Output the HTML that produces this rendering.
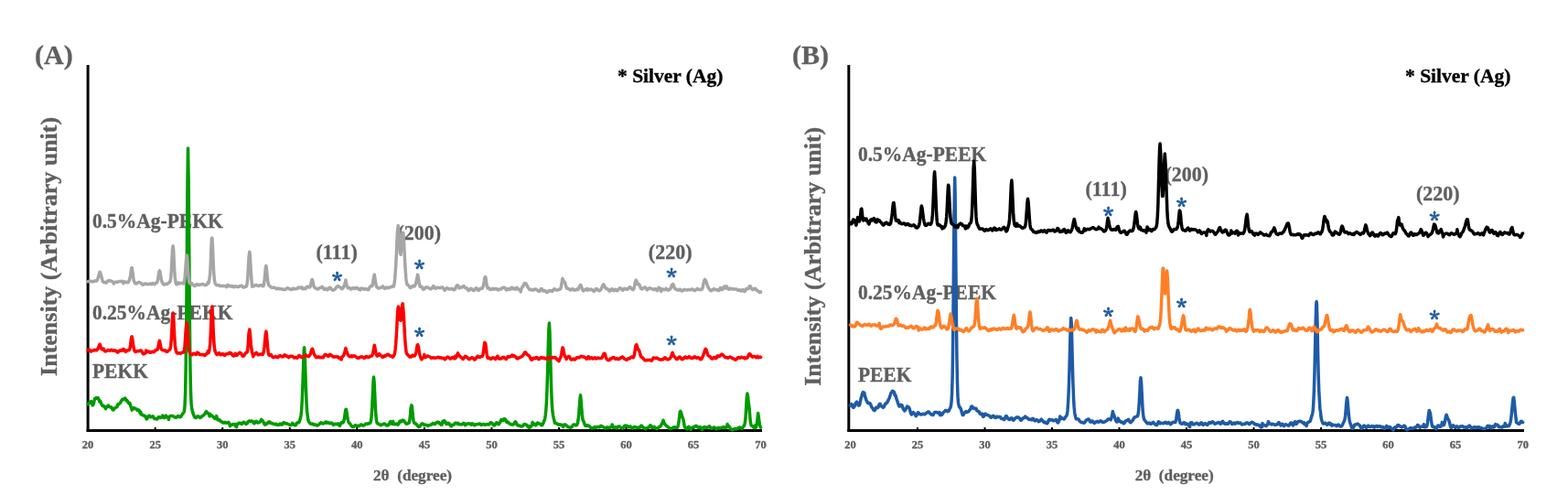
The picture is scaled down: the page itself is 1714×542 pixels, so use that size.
<!DOCTYPE html>
<html><head><meta charset="utf-8"><title>XRD patterns</title>
<style>
html,body{margin:0;padding:0;background:#fff;width:1714px;height:542px;overflow:hidden}
svg{display:block;filter:blur(0.7px)}
text{font-family:"Liberation Serif","Times New Roman",serif;font-weight:bold;white-space:pre;stroke-width:0.35px;stroke-linejoin:round}
.tk{stroke:#5f5f5f;font-size:12.5px;fill:#5f5f5f;text-anchor:middle}
.pl{stroke:#5f5f5f;font-size:30px;fill:#5f5f5f}
.sv{stroke:#000;font-size:21.5px;fill:#000}
.lb{stroke:#5f5f5f;font-size:21.5px;fill:#5f5f5f}
.yl{stroke:#5f5f5f;font-size:26px;fill:#5f5f5f;text-anchor:middle}
.xl{stroke:#5f5f5f;font-size:17.2px;fill:#5f5f5f;text-anchor:middle}
.st{font-family:'Noto Serif CJK SC',serif;font-size:23px;fill:#1c5b9c;stroke:#1c5b9c;stroke-width:0.7px;stroke-linejoin:round;text-anchor:middle}
.hk{stroke:#5f5f5f;font-size:22px;fill:#5f5f5f}
</style></head><body>
<svg width="1714" height="542" viewBox="0 0 1714 542">
<rect width="1714" height="542" fill="#fff"/>
<line x1="96.1" y1="71" x2="96.1" y2="471.5" stroke="#000" stroke-width="3"/>
<line x1="94.6" y1="470.5" x2="833" y2="470.5" stroke="#000" stroke-width="3"/>
<text x="96.1" y="490" class="tk">20</text>
<line x1="169.7" y1="467" x2="169.7" y2="470" stroke="#000" stroke-width="2"/>
<text x="169.7" y="490" class="tk">25</text>
<line x1="243.2" y1="467" x2="243.2" y2="470" stroke="#000" stroke-width="2"/>
<text x="243.2" y="490" class="tk">30</text>
<line x1="316.8" y1="467" x2="316.8" y2="470" stroke="#000" stroke-width="2"/>
<text x="316.8" y="490" class="tk">35</text>
<line x1="390.3" y1="467" x2="390.3" y2="470" stroke="#000" stroke-width="2"/>
<text x="390.3" y="490" class="tk">40</text>
<line x1="463.9" y1="467" x2="463.9" y2="470" stroke="#000" stroke-width="2"/>
<text x="463.9" y="490" class="tk">45</text>
<line x1="537.4" y1="467" x2="537.4" y2="470" stroke="#000" stroke-width="2"/>
<text x="537.4" y="490" class="tk">50</text>
<line x1="611.0" y1="467" x2="611.0" y2="470" stroke="#000" stroke-width="2"/>
<text x="611.0" y="490" class="tk">55</text>
<line x1="684.5" y1="467" x2="684.5" y2="470" stroke="#000" stroke-width="2"/>
<text x="684.5" y="490" class="tk">60</text>
<line x1="758.1" y1="467" x2="758.1" y2="470" stroke="#000" stroke-width="2"/>
<text x="758.1" y="490" class="tk">65</text>
<text x="831.6" y="490" class="tk">70</text>
<line x1="927.8" y1="71" x2="927.8" y2="471.5" stroke="#000" stroke-width="3"/>
<line x1="926.3" y1="470.5" x2="1666" y2="470.5" stroke="#000" stroke-width="3"/>
<text x="929.4" y="490" class="tk">20</text>
<line x1="1002.9" y1="467" x2="1002.9" y2="470" stroke="#000" stroke-width="2"/>
<text x="1002.9" y="490" class="tk">25</text>
<line x1="1076.5" y1="467" x2="1076.5" y2="470" stroke="#000" stroke-width="2"/>
<text x="1076.5" y="490" class="tk">30</text>
<line x1="1150.0" y1="467" x2="1150.0" y2="470" stroke="#000" stroke-width="2"/>
<text x="1150.0" y="490" class="tk">35</text>
<line x1="1223.5" y1="467" x2="1223.5" y2="470" stroke="#000" stroke-width="2"/>
<text x="1223.5" y="490" class="tk">40</text>
<line x1="1297.0" y1="467" x2="1297.0" y2="470" stroke="#000" stroke-width="2"/>
<text x="1297.0" y="490" class="tk">45</text>
<line x1="1370.5" y1="467" x2="1370.5" y2="470" stroke="#000" stroke-width="2"/>
<text x="1370.5" y="490" class="tk">50</text>
<line x1="1444.1" y1="467" x2="1444.1" y2="470" stroke="#000" stroke-width="2"/>
<text x="1444.1" y="490" class="tk">55</text>
<line x1="1517.6" y1="467" x2="1517.6" y2="470" stroke="#000" stroke-width="2"/>
<text x="1517.6" y="490" class="tk">60</text>
<line x1="1591.1" y1="467" x2="1591.1" y2="470" stroke="#000" stroke-width="2"/>
<text x="1591.1" y="490" class="tk">65</text>
<text x="1664.7" y="490" class="tk">70</text>
<text x="38" y="70" class="pl">(A)</text>
<text x="675" y="89.7" class="sv">* Silver (Ag)</text>
<text transform="translate(101,249.0) scale(1,1.045)" class="lb">0.5%Ag-PEKK</text>
<text transform="translate(101,349.4) scale(1,1.045)" class="lb">0.25%Ag-PEKK</text>
<text transform="translate(101,413.3) scale(1,1.045)" class="lb">PEKK</text>
<text transform="translate(345.5,283) scale(1,1.045)" class="hk">(111)</text>
<text transform="translate(434.5,262) scale(1,1.045)" class="hk">(200)</text>
<text transform="translate(708.8,283) scale(1,1.045)" class="hk">(220)</text>
<text transform="translate(62,269.4) rotate(-90)" class="yl">Intensity (Arbitrary unit)</text>
<text x="451" y="524.9" class="xl">2θ  (degree)</text>
<text x="866" y="70" class="pl">(B)</text>
<text x="1536" y="89.7" class="sv">* Silver (Ag)</text>
<text transform="translate(938,175.8) scale(1,1.045)" class="lb">0.5%Ag-PEEK</text>
<text transform="translate(938,327.2) scale(1,1.045)" class="lb">0.25%Ag-PEEK</text>
<text transform="translate(938,416.5) scale(1,1.045)" class="lb">PEEK</text>
<text transform="translate(1186.5,214) scale(1,1.045)" class="hk">(111)</text>
<text transform="translate(1273.5,198) scale(1,1.045)" class="hk">(200)</text>
<text transform="translate(1548,218.5) scale(1,1.045)" class="hk">(220)</text>
<text transform="translate(897,280.3) rotate(-90)" class="yl">Intensity (Arbitrary unit)</text>
<text x="1283.7" y="524.9" class="xl">2θ  (degree)</text>
<polyline fill="none" stroke="#009a00" stroke-width="3.5" stroke-linejoin="round" stroke-linecap="round" points="96.1,441.8 96.7,441.0 97.3,440.5 97.9,440.0 98.5,440.0 99.0,439.2 99.6,438.7 100.2,440.3 100.8,441.7 101.4,442.9 102.0,441.9 102.6,440.1 103.2,437.0 103.7,435.6 104.3,435.0 104.9,434.7 105.5,435.2 106.1,435.4 106.7,435.3 107.1,434.5 107.9,436.7 108.5,437.1 109.0,439.3 109.6,438.2 110.2,439.6 110.8,441.2 111.4,442.6 112.0,443.5 112.6,443.5 113.2,443.3 113.8,444.2 114.3,445.0 114.9,445.5 115.5,446.6 116.1,445.4 116.7,444.7 117.3,443.8 117.9,443.2 118.5,443.1 119.0,444.4 119.6,444.5 120.2,444.9 120.8,445.1 121.4,444.7 122.0,445.3 122.6,446.6 123.2,447.6 123.8,448.0 124.3,447.7 124.9,446.5 125.5,445.8 126.1,445.6 126.7,445.2 127.3,445.0 127.9,444.7 128.5,442.7 129.1,441.8 129.6,441.7 130.2,441.3 130.8,440.8 131.4,440.3 132.0,439.4 132.6,438.0 133.2,437.1 133.8,436.3 134.3,436.7 134.9,436.0 135.5,436.0 136.1,436.5 136.7,435.0 137.3,436.0 137.9,437.3 138.5,438.1 139.1,437.9 139.6,438.9 140.2,439.4 140.8,441.0 141.4,441.0 142.0,440.7 142.6,442.9 143.2,444.8 143.8,446.7 144.3,448.1 144.9,447.5 145.5,446.7 146.1,445.7 146.7,445.9 147.3,446.0 147.9,446.5 148.5,446.7 149.1,447.1 149.6,447.7 150.2,448.5 150.8,448.1 151.4,447.8 152.0,448.3 152.6,449.8 153.2,451.7 153.8,450.2 154.4,453.0 154.9,452.8 155.5,453.3 156.1,453.7 156.7,454.0 157.3,453.9 157.9,454.3 158.5,454.5 159.1,455.8 159.6,456.9 160.2,458.0 160.8,457.4 161.4,456.5 162.0,454.9 162.6,454.6 163.2,454.1 163.8,454.9 164.4,455.5 164.9,455.9 165.5,455.7 166.1,455.5 166.7,454.8 167.3,455.0 167.9,456.3 168.5,457.2 169.1,457.7 169.6,457.5 170.2,457.3 170.8,457.5 171.4,458.1 172.0,457.6 172.6,457.0 173.2,455.8 173.8,455.7 174.4,455.9 174.9,456.5 175.5,456.4 176.1,456.3 176.7,455.6 177.3,455.1 177.9,454.0 178.5,456.0 179.1,456.5 179.7,456.6 180.2,456.4 180.8,455.1 181.4,454.2 182.0,454.8 182.6,455.5 183.2,456.2 183.8,456.5 184.4,458.5 184.9,455.6 185.5,455.1 186.1,454.7 186.7,454.5 187.3,454.6 187.9,454.6 188.5,454.5 189.1,454.8 189.7,455.1 190.2,455.4 190.8,455.7 191.4,456.0 192.0,456.5 192.6,456.2 193.2,455.9 193.8,455.1 194.4,454.7 195.0,454.5 195.5,455.3 196.1,455.6 196.7,455.7 197.3,455.7 197.9,455.0 198.5,454.0 199.1,453.1 199.7,452.1 200.2,451.4 200.8,450.8 201.4,449.3 202.0,443.8 202.6,430.0 203.2,399.4 203.8,345.5 204.4,269.8 205.0,195.4 205.5,161.9 206.1,195.9 206.7,270.6 207.3,346.2 207.9,399.4 208.5,428.5 209.1,441.2 209.7,446.4 210.2,448.7 210.8,450.9 211.4,452.7 212.0,454.2 212.6,455.6 213.2,456.3 213.8,456.6 214.4,456.5 215.0,455.7 215.5,455.2 216.1,454.8 216.7,454.9 217.3,455.3 217.9,455.7 218.5,456.4 219.1,456.5 219.7,456.0 220.3,455.4 220.8,454.7 221.4,454.4 222.0,454.2 222.6,453.7 223.2,453.1 223.8,452.4 224.4,451.2 225.0,450.4 225.5,449.7 226.1,450.1 226.7,451.5 227.3,451.7 227.9,452.0 228.5,452.2 229.1,455.0 229.7,452.5 230.3,453.6 230.8,453.7 231.4,454.0 232.0,454.5 232.6,455.1 233.2,455.6 233.8,456.5 234.4,457.1 235.0,457.4 235.6,457.4 236.1,457.4 236.7,454.6 237.3,457.7 237.9,458.7 238.5,459.1 239.1,458.9 239.7,458.6 240.3,459.0 240.8,459.8 241.4,460.6 242.0,461.0 242.6,460.9 243.2,461.1 243.8,461.9 244.4,462.0 245.0,461.9 245.6,462.0 246.1,461.3 246.7,461.8 247.3,461.9 247.9,462.2 248.5,462.0 249.1,461.8 249.7,461.4 250.3,462.0 250.8,462.9 251.4,465.7 252.0,464.7 252.6,464.5 253.2,464.3 253.8,464.1 254.4,463.7 255.0,463.6 255.6,463.9 256.1,463.9 256.7,463.7 257.3,463.6 257.9,466.0 258.5,466.7 259.1,463.7 259.7,463.4 260.3,463.1 260.9,462.3 261.4,462.2 262.0,462.4 262.6,462.3 263.2,462.7 263.8,463.4 264.4,463.2 265.0,462.8 265.6,462.2 266.1,461.2 266.7,461.4 267.3,461.7 267.9,462.5 268.5,463.1 269.1,463.4 269.7,463.0 270.3,462.4 270.9,461.1 271.4,460.6 272.0,460.2 272.6,460.0 273.2,460.5 273.8,460.4 274.4,460.1 275.0,460.0 275.6,460.3 276.2,460.5 276.7,461.3 277.3,462.4 277.9,462.8 278.5,462.4 279.1,461.5 279.7,460.5 280.3,460.3 280.9,460.9 281.4,461.8 282.0,462.0 282.6,461.9 283.2,461.4 283.9,461.3 284.4,460.5 285.0,460.0 285.6,458.3 286.2,459.4 286.7,459.5 287.3,460.2 287.9,461.0 288.5,462.4 289.1,463.7 289.7,464.2 290.3,464.0 290.9,463.6 291.4,462.6 292.0,462.7 292.6,462.6 293.2,461.5 293.8,461.0 294.4,460.8 295.0,461.4 295.6,462.2 296.2,462.7 296.7,462.7 297.3,462.5 297.9,462.4 298.5,463.0 299.1,463.6 299.7,463.5 300.3,463.7 300.9,463.6 301.5,463.2 302.0,463.3 302.6,464.2 303.2,464.2 303.8,464.5 304.4,464.2 305.0,464.0 305.6,463.4 306.2,463.0 306.7,463.3 307.3,463.9 307.9,463.8 308.5,463.9 309.1,462.8 309.7,461.9 310.3,461.7 310.9,462.2 311.5,462.7 312.0,462.9 312.6,462.8 313.2,462.6 313.8,462.8 314.4,463.2 315.0,463.5 315.6,463.8 316.2,463.9 316.7,464.5 317.3,464.6 317.9,464.6 318.5,464.2 319.1,463.8 319.7,462.4 320.3,463.3 320.9,463.8 321.5,464.2 322.0,464.6 322.6,464.8 323.2,464.8 323.8,463.5 324.4,462.5 325.0,461.8 325.6,461.6 326.2,461.8 326.8,461.7 327.3,460.4 327.9,458.5 328.5,456.6 329.1,453.2 329.7,447.2 330.3,436.7 330.9,421.6 331.5,403.3 332.0,387.0 332.6,379.7 333.2,388.1 333.8,405.3 334.4,423.7 335.0,438.9 335.6,449.5 336.2,454.1 336.8,458.8 337.3,460.2 337.9,461.3 338.5,461.8 339.1,463.0 339.7,463.0 340.3,463.3 340.9,463.1 341.5,463.2 342.1,463.3 342.6,464.1 343.2,464.2 343.8,464.1 344.4,464.1 345.0,464.0 345.6,464.4 346.2,464.8 346.8,465.0 347.3,464.8 347.9,464.5 348.5,464.0 349.1,463.4 349.7,462.9 350.3,462.2 350.9,461.8 351.5,462.1 352.1,462.6 352.6,462.6 353.2,463.0 353.8,462.6 354.4,462.4 355.0,461.8 355.6,461.3 356.2,461.0 356.8,461.2 357.3,462.3 357.9,461.5 358.5,461.7 359.1,461.8 359.7,462.1 360.3,462.7 360.9,462.7 361.5,462.4 362.1,462.1 362.6,462.2 363.2,462.6 363.8,463.6 364.4,464.2 365.0,464.1 365.6,463.7 366.2,463.2 366.8,463.2 367.4,463.5 367.9,463.5 368.5,463.2 369.1,463.0 369.7,463.1 370.3,464.2 370.9,465.1 371.5,465.2 372.1,464.0 372.6,462.6 373.2,461.7 373.8,461.6 374.4,462.0 375.0,461.8 375.6,460.7 376.2,458.6 376.8,454.9 377.4,450.4 377.9,447.7 378.2,447.2 378.5,447.3 379.1,450.8 379.7,455.1 380.3,458.6 380.9,461.1 381.5,462.2 382.1,462.5 382.7,463.1 383.2,463.9 383.8,464.8 384.4,465.7 385.0,466.2 385.6,466.4 386.2,466.5 386.8,466.2 387.4,465.6 387.9,465.1 388.5,464.6 389.1,464.8 389.7,465.2 390.3,465.7 390.9,465.5 391.5,465.7 392.1,465.6 392.7,465.5 393.2,465.2 393.8,464.7 394.4,464.1 395.0,464.1 395.6,464.2 396.2,464.8 396.8,465.1 397.4,465.1 397.9,464.8 398.5,464.5 399.1,463.7 399.7,463.4 400.3,463.0 400.9,463.0 401.5,463.1 402.1,463.3 402.7,462.9 403.2,462.5 403.8,462.5 404.4,462.5 405.0,461.8 405.6,459.6 406.2,453.8 406.8,444.1 407.4,430.9 408.0,417.6 408.5,412.0 409.1,417.8 409.7,431.2 410.3,444.7 410.9,454.0 411.5,459.5 412.1,462.0 412.7,462.9 413.2,462.8 413.8,463.4 414.4,463.5 415.0,464.0 415.6,464.3 416.2,464.6 416.8,464.1 417.4,464.3 418.0,463.9 418.5,463.8 419.1,463.6 419.7,463.0 420.3,462.9 420.9,463.5 421.5,464.0 422.1,464.8 422.7,464.9 423.3,464.2 423.8,464.3 424.4,464.7 425.0,464.2 425.6,463.0 426.2,461.4 426.8,460.6 427.4,461.0 428.0,462.3 428.5,463.4 429.1,463.3 429.7,460.5 430.3,463.3 430.9,463.5 431.5,463.7 432.1,463.7 432.7,463.5 433.3,462.9 433.8,463.0 434.4,463.7 435.0,464.1 435.6,463.2 436.2,461.9 436.8,460.5 437.4,460.0 438.0,460.7 438.5,460.9 439.1,460.1 439.7,459.6 440.3,459.1 440.9,459.2 441.5,459.8 442.1,460.7 442.7,461.3 443.3,462.4 443.8,463.0 444.4,463.2 445.0,463.1 445.6,462.7 446.2,462.5 446.8,462.4 447.4,461.4 448.0,458.1 448.6,452.4 449.1,446.0 449.9,442.9 450.3,443.8 450.9,449.7 451.5,455.9 452.1,460.2 452.7,462.0 453.3,462.7 453.8,462.9 454.4,462.8 455.0,463.3 455.6,464.2 456.2,464.8 456.8,465.3 457.4,466.3 458.0,466.5 458.6,466.2 459.1,465.7 459.7,464.9 460.3,464.0 460.9,463.1 461.5,463.2 462.1,463.0 462.7,463.3 463.3,463.7 463.8,464.6 464.4,464.5 465.0,464.4 465.6,464.2 466.2,464.5 466.8,464.5 467.4,465.1 468.0,465.4 468.6,464.9 469.1,464.7 469.7,464.5 470.3,464.3 470.9,464.1 471.5,464.1 472.1,463.3 472.7,462.9 473.3,462.6 473.9,462.9 474.4,463.2 475.0,463.5 475.6,463.5 476.2,462.7 476.8,462.0 477.4,461.6 478.0,461.3 478.6,461.1 479.1,461.5 479.7,461.7 480.3,462.8 480.9,462.6 481.5,463.3 482.1,464.1 482.7,464.3 483.3,463.8 483.9,460.5 484.4,461.4 485.0,460.2 485.6,459.7 486.2,460.1 486.8,461.4 487.4,462.7 488.0,463.5 488.6,463.5 489.2,462.6 489.7,462.2 490.3,462.2 490.9,462.8 491.5,463.7 492.1,464.6 492.7,465.5 493.3,465.8 493.9,465.1 494.4,464.3 495.0,464.4 495.6,464.0 496.2,464.0 496.8,463.3 497.4,462.3 498.0,462.0 498.6,462.5 499.2,462.7 499.7,462.6 500.3,463.3 500.9,462.4 501.5,463.0 502.1,463.8 502.7,463.8 503.3,463.8 503.9,463.7 504.4,463.7 505.0,464.0 505.6,463.5 506.2,462.7 506.8,462.5 507.4,462.7 508.0,463.4 508.6,464.6 509.2,464.3 509.7,463.8 510.3,463.2 510.9,463.0 511.5,463.0 512.1,462.9 512.7,462.7 513.3,462.8 513.9,463.3 514.5,463.5 515.0,464.1 515.6,463.2 516.2,462.8 516.8,463.2 517.4,464.0 518.0,464.3 518.6,464.7 519.2,464.6 519.7,463.7 520.3,463.8 520.9,463.8 521.5,463.7 522.1,463.6 522.7,463.6 523.3,463.2 523.9,463.0 524.5,463.1 525.0,463.2 525.6,464.1 526.2,464.4 526.8,464.3 527.4,464.0 528.0,463.4 528.6,463.4 529.2,463.7 529.8,464.1 530.3,464.3 530.9,464.0 531.5,463.8 532.1,463.6 532.7,463.5 533.3,463.9 533.9,464.0 534.5,463.9 535.0,463.4 535.6,462.8 536.2,461.8 536.8,461.9 537.4,461.9 538.0,462.5 538.6,463.4 539.2,464.3 539.8,464.9 540.3,465.0 540.9,464.5 541.5,463.6 542.1,462.5 542.7,461.8 543.3,462.1 543.9,462.8 544.5,463.2 545.0,463.7 545.6,463.1 546.2,462.1 546.8,460.9 547.4,459.8 548.0,458.6 548.6,459.0 549.2,459.5 549.8,459.7 550.3,459.3 550.6,459.2 550.9,457.7 551.5,457.8 552.1,458.6 552.7,458.5 553.3,460.7 553.9,461.4 554.5,460.9 555.1,461.0 555.6,461.7 556.2,462.2 556.8,463.0 557.4,463.3 558.0,463.3 558.6,463.6 559.2,464.1 559.8,464.1 560.3,464.1 560.9,464.1 561.5,463.7 562.1,462.6 562.7,461.5 563.3,460.8 563.9,461.2 564.5,462.5 565.1,464.0 565.6,464.6 566.2,464.9 566.8,465.0 567.4,464.9 568.0,465.1 568.6,465.4 569.2,465.6 569.8,465.9 570.4,466.0 570.9,465.8 571.5,465.3 572.1,464.7 572.7,463.8 573.3,463.8 573.9,463.5 574.5,463.9 575.1,463.9 575.6,464.3 576.2,465.0 576.8,465.9 577.4,466.7 578.0,467.2 578.6,465.6 579.2,467.2 579.8,466.5 580.4,465.9 580.9,465.4 581.5,464.7 582.1,461.4 582.7,463.8 583.3,463.1 583.9,462.9 584.5,463.6 585.1,464.5 585.6,464.9 586.2,464.2 586.8,463.5 587.4,462.2 588.0,462.0 588.6,462.5 589.2,462.9 589.8,462.9 590.4,463.3 590.9,463.6 591.5,464.4 592.1,464.8 592.7,464.7 593.3,463.6 593.9,462.3 594.5,460.6 595.1,459.4 595.7,457.1 596.2,453.9 596.8,448.3 597.4,439.6 598.0,425.4 598.6,405.9 599.2,382.6 599.8,361.5 600.4,353.1 600.9,361.9 601.5,383.0 602.1,406.7 602.7,426.9 603.3,441.0 603.9,449.1 604.5,453.6 605.1,456.4 605.7,458.8 606.2,461.2 606.8,462.6 607.4,462.6 608.0,462.5 608.6,462.8 609.2,463.4 609.8,463.7 610.4,464.1 610.9,463.7 611.5,463.9 612.1,464.0 612.7,464.4 613.3,464.1 613.9,464.5 614.5,464.7 615.1,465.1 615.7,466.4 616.2,464.2 616.8,464.1 617.4,464.0 618.0,464.1 618.6,464.4 619.2,465.0 619.8,465.3 620.4,466.3 621.0,466.6 621.5,466.8 622.1,466.7 622.7,467.1 623.3,467.0 623.9,467.2 624.5,466.8 625.1,466.6 625.7,465.6 626.2,464.7 626.8,464.1 627.4,464.0 628.0,464.1 628.6,464.3 629.2,464.8 629.8,464.8 630.4,464.5 631.0,463.5 631.5,462.1 632.1,458.4 632.7,452.9 633.3,445.4 633.9,437.4 634.5,431.8 635.1,437.4 635.7,445.5 636.3,452.7 636.8,457.2 637.4,459.6 638.0,460.7 638.6,462.2 639.2,464.0 639.8,465.3 640.4,465.2 641.0,465.1 641.5,465.5 642.1,464.6 642.7,464.9 643.3,465.3 643.9,465.4 644.5,465.9 645.1,466.6 645.7,467.4 646.3,467.3 646.8,467.8 647.4,467.7 648.0,467.8 648.6,467.5 649.2,467.5 649.8,466.7 650.4,466.6 651.0,466.7 651.5,467.2 652.1,467.0 652.7,466.7 653.3,466.5 653.9,466.6 654.5,466.7 655.1,466.9 655.7,466.6 656.3,465.9 656.8,465.2 657.4,465.5 658.0,465.8 658.6,466.3 659.2,466.5 659.8,466.9 660.4,467.2 661.0,467.8 661.6,468.1 662.1,467.7 662.7,467.4 663.3,466.8 663.9,467.6 664.5,467.8 665.1,467.0 665.7,467.5 666.3,467.5 666.8,467.4 667.4,466.7 668.0,466.5 668.6,466.5 669.2,464.0 669.8,467.0 670.4,467.3 671.0,467.2 671.6,466.9 672.1,466.8 672.7,466.6 673.3,467.2 673.9,467.9 674.5,467.6 675.1,466.9 675.7,466.1 676.3,465.9 676.9,466.1 677.4,466.1 678.0,466.9 678.6,467.2 679.2,467.5 679.8,467.7 680.4,468.2 681.0,467.8 681.6,467.2 682.1,466.0 682.7,465.3 683.3,465.0 683.9,465.2 684.5,465.2 685.1,465.3 685.7,465.5 686.3,466.2 686.9,466.7 687.4,467.0 688.0,466.2 688.6,466.0 689.2,466.2 689.8,466.5 690.4,467.3 691.0,468.0 691.6,468.0 692.1,467.7 692.7,467.1 693.3,466.4 693.9,466.4 694.5,466.6 695.1,466.8 695.7,467.3 696.3,467.3 696.9,467.0 697.4,467.2 698.0,467.3 698.6,467.4 699.2,467.4 699.8,466.4 700.4,465.7 701.0,465.1 701.6,465.4 702.2,466.3 702.7,467.1 703.3,467.2 703.9,467.6 704.5,467.9 705.1,468.4 705.7,468.7 706.3,468.4 706.9,467.7 707.4,467.4 708.0,467.3 708.6,467.3 709.2,467.1 709.8,466.3 710.4,465.2 711.0,464.7 711.6,465.1 712.2,466.5 712.7,467.4 713.3,467.3 713.9,466.9 714.5,466.5 715.1,466.3 715.7,467.5 716.3,467.3 716.9,467.6 717.5,468.0 718.0,468.6 718.6,468.5 719.2,468.0 719.8,467.2 720.4,466.5 721.0,466.3 721.6,466.1 722.2,465.5 722.7,464.6 723.3,463.2 723.9,462.1 724.5,461.4 725.0,459.2 725.7,461.4 726.3,462.5 726.9,463.7 727.5,464.3 728.0,465.0 728.6,465.5 729.2,465.7 729.8,466.0 730.4,466.9 731.0,467.3 731.6,467.8 732.2,468.5 732.7,468.6 733.3,468.4 733.9,468.1 734.5,467.9 735.1,467.5 735.7,467.2 736.3,467.0 736.9,466.8 737.5,466.6 738.0,467.1 738.6,467.5 739.2,467.4 739.8,467.6 740.4,467.4 741.0,466.0 741.6,463.3 742.2,459.5 742.8,454.6 743.3,450.0 743.8,449.3 744.5,450.6 745.1,453.3 745.7,455.4 746.3,456.5 746.6,457.5 746.9,458.3 747.5,461.5 748.0,464.8 748.6,466.6 749.2,467.7 749.8,468.4 750.4,468.5 751.0,468.9 751.6,467.8 752.2,466.7 752.8,466.3 753.3,466.6 753.9,467.5 754.5,468.6 755.1,469.2 755.7,468.8 756.3,467.9 756.9,467.0 757.5,466.7 758.0,466.8 758.6,466.7 759.2,466.6 759.8,465.7 760.4,465.4 761.0,465.3 761.6,465.8 762.2,466.2 762.8,466.8 763.3,467.4 763.9,467.7 764.5,467.0 765.1,466.4 765.7,466.6 766.3,467.5 766.9,468.6 767.5,469.3 768.1,468.8 768.6,467.8 769.2,466.8 769.8,466.6 770.4,466.4 771.0,467.2 771.6,467.5 772.2,467.4 772.8,467.2 773.3,467.2 773.9,466.6 774.5,466.4 775.1,465.8 775.7,465.8 776.3,466.7 776.9,467.8 777.5,468.2 778.1,468.3 778.6,467.8 779.2,467.5 779.8,467.1 780.4,466.9 781.0,467.1 781.6,467.5 782.2,468.1 782.8,468.8 783.4,468.7 783.9,468.0 784.5,467.7 785.1,467.5 785.7,467.3 786.3,467.8 786.9,467.9 787.5,467.6 788.1,467.5 788.6,467.7 789.2,467.4 789.8,467.1 790.4,466.7 791.0,466.5 791.6,466.7 792.2,467.3 792.8,467.5 793.4,467.4 793.9,467.3 794.5,466.7 795.1,463.5 795.7,465.6 796.3,465.4 796.9,465.8 797.5,466.8 798.1,467.7 798.6,468.7 799.2,469.5 799.8,469.6 800.4,469.7 801.0,469.7 801.6,469.2 802.2,468.8 802.8,468.8 803.4,468.4 803.9,468.6 804.5,468.9 805.1,468.9 805.7,468.5 806.3,468.3 806.9,467.8 807.5,467.7 808.1,467.1 808.7,467.0 809.2,467.1 809.8,467.6 810.4,467.9 811.0,468.4 811.6,467.7 812.2,466.7 812.8,465.9 813.4,465.2 813.9,464.1 814.5,461.1 815.1,455.1 815.7,445.0 816.3,434.4 816.9,430.1 817.5,432.9 818.1,439.3 818.7,443.1 819.1,446.5 819.8,455.5 820.4,461.7 821.0,464.5 821.6,465.3 822.2,465.3 822.8,465.9 823.4,466.3 824.0,467.2 824.5,467.7 825.1,467.7 825.7,464.9 826.3,467.1 826.9,465.3 827.5,461.9 828.1,456.6 828.7,451.5 829.2,455.3 829.8,459.8 830.4,463.9 831.0,466.1 831.6,467.1"/>
<polyline fill="none" stroke="#ff0000" stroke-width="3.5" stroke-linejoin="round" stroke-linecap="round" points="96.1,382.7 96.7,381.9 97.3,381.9 97.9,382.4 98.5,383.1 99.0,383.7 99.6,384.1 100.2,383.4 100.8,383.3 101.4,383.2 102.0,383.0 102.6,382.6 103.2,382.5 103.7,382.3 104.3,382.7 104.9,382.8 105.5,382.8 106.1,382.1 106.7,381.6 107.3,380.4 107.9,379.1 108.5,377.5 109.0,376.2 109.6,377.2 110.2,379.5 110.8,381.2 111.4,381.8 112.0,381.5 112.6,381.1 113.2,381.1 113.8,382.4 114.3,383.5 114.9,384.0 115.5,383.9 116.1,383.6 116.7,383.4 117.3,383.0 117.9,382.7 118.5,382.5 119.0,382.9 119.6,383.1 120.2,383.2 120.8,382.7 121.4,382.4 122.0,382.2 122.6,383.1 123.2,383.1 123.8,383.2 124.3,383.2 124.9,383.1 125.5,382.8 126.1,383.3 126.7,383.2 127.3,383.6 127.9,384.7 128.5,385.0 129.1,384.8 129.6,384.2 130.2,383.5 130.8,382.9 131.4,383.0 132.0,382.6 132.6,383.3 133.2,383.1 133.8,382.7 134.3,381.7 134.9,381.5 135.5,381.7 136.1,383.0 136.7,384.0 137.3,384.4 137.9,383.9 138.5,383.1 139.1,383.0 139.6,382.6 140.2,382.8 140.8,382.8 141.4,382.5 142.0,380.8 142.6,376.9 143.2,371.9 143.8,368.3 144.1,367.8 144.3,368.1 144.9,371.4 145.5,375.8 146.1,379.9 146.7,382.3 147.3,383.9 147.9,384.4 148.5,384.4 149.1,384.0 149.6,383.9 150.2,383.6 150.8,383.8 151.4,383.7 152.0,383.7 152.6,383.4 153.2,383.0 153.8,382.9 154.4,383.2 154.9,384.0 155.5,385.0 156.1,386.3 156.7,386.8 157.3,386.7 157.9,386.6 158.5,386.0 159.1,385.6 159.6,383.0 160.2,385.0 160.8,384.1 161.4,384.1 162.0,383.9 162.6,384.1 163.2,384.4 163.8,385.2 164.4,385.3 164.9,385.2 165.5,384.9 166.1,384.2 166.7,384.2 167.3,384.6 167.9,384.8 168.5,384.5 169.1,384.0 169.6,383.1 170.2,382.5 170.8,382.4 171.4,382.4 172.0,382.2 172.6,380.6 173.2,377.7 173.8,374.2 174.4,372.3 174.9,374.4 175.5,378.0 176.1,380.6 176.7,382.0 177.3,382.3 177.9,382.5 178.5,382.8 179.1,382.8 179.7,382.9 180.2,382.6 180.8,383.2 181.4,383.6 182.0,384.4 182.6,384.1 183.2,384.1 183.8,383.3 184.4,383.0 184.9,382.6 185.5,382.4 186.1,381.0 186.7,377.7 187.3,370.6 187.9,359.5 188.5,347.5 189.1,342.0 189.7,346.4 190.2,357.5 190.8,369.2 191.4,377.4 192.0,381.8 192.6,384.0 193.2,385.5 193.8,386.0 194.4,386.1 195.0,386.0 195.5,385.9 196.1,385.7 196.7,385.9 197.3,386.4 197.9,386.0 198.5,385.6 199.1,385.1 199.7,384.9 200.2,385.1 200.8,385.0 201.4,382.7 202.0,378.2 202.6,370.1 203.2,360.9 203.8,354.4 204.1,352.8 204.4,355.0 205.0,361.6 205.5,370.5 206.1,378.1 206.7,382.8 207.3,384.9 207.9,386.1 208.5,386.8 209.1,387.3 209.7,387.4 210.2,387.6 210.8,386.8 211.4,386.4 212.0,386.2 212.6,386.6 213.2,386.5 213.8,387.3 214.4,387.4 215.0,387.2 215.5,385.2 216.1,385.6 216.7,385.5 217.3,386.2 217.9,387.2 218.5,387.6 219.1,387.6 219.7,387.5 220.3,387.7 220.8,387.4 221.4,387.5 222.0,387.7 222.6,387.6 223.2,388.1 223.8,388.5 224.4,388.2 225.0,387.3 225.5,386.9 226.1,386.2 226.7,386.2 227.3,383.7 227.9,385.6 228.5,384.1 229.1,381.0 229.7,375.1 230.3,364.7 230.8,350.5 231.4,339.3 231.7,335.0 232.0,337.7 232.6,347.6 233.2,361.9 233.8,373.5 234.4,379.9 235.0,383.5 235.6,384.9 236.1,386.0 236.7,387.1 237.3,387.5 237.9,387.1 238.5,386.3 239.1,385.8 239.7,385.8 240.3,386.6 240.8,387.5 241.4,387.8 242.0,387.5 242.6,386.9 243.2,386.5 243.8,386.8 244.4,387.7 245.0,388.2 245.6,388.3 246.1,388.0 246.7,386.9 247.3,386.8 247.9,386.7 248.5,386.8 249.1,386.5 249.7,386.6 250.3,386.6 250.8,385.3 251.4,385.7 252.0,385.7 252.6,385.9 253.2,386.5 253.8,387.5 254.4,388.4 255.0,388.9 255.6,389.0 256.1,388.6 256.7,388.3 257.3,386.3 257.9,388.3 258.5,388.1 259.1,388.2 259.7,387.3 260.3,386.7 260.9,386.4 261.4,385.6 262.0,385.3 262.6,385.5 263.2,385.8 263.8,386.4 264.4,388.0 265.0,388.8 265.6,389.3 266.1,389.0 266.7,388.7 267.3,387.6 267.9,386.7 268.5,385.6 269.1,385.2 269.7,385.2 270.3,384.4 270.9,381.1 271.4,374.1 272.0,364.1 272.8,360.0 273.2,363.0 273.8,369.8 274.4,377.0 275.0,382.1 275.6,385.2 276.2,386.9 276.7,389.8 277.3,387.9 277.9,387.5 278.5,387.1 279.1,386.5 279.7,385.6 280.3,385.3 280.9,386.3 281.4,387.0 282.0,387.6 282.6,387.8 283.2,387.3 283.8,386.9 284.4,387.0 285.0,387.1 285.6,387.1 286.2,387.4 286.7,387.5 287.3,387.3 287.9,385.7 288.5,382.9 289.1,378.2 289.7,371.4 290.3,365.0 290.9,362.1 291.4,365.2 292.0,372.3 292.6,379.5 293.2,384.8 293.8,387.7 294.4,388.4 295.0,387.9 295.6,387.7 296.2,387.5 296.7,388.2 297.3,389.2 297.9,390.1 298.5,390.4 299.1,390.6 299.7,390.3 300.3,390.1 300.9,389.4 301.5,389.5 302.0,389.9 302.6,390.4 303.2,390.5 303.8,390.7 304.4,389.8 305.0,389.2 305.6,388.8 306.2,388.8 306.7,388.8 307.3,389.2 307.9,389.6 308.5,389.8 309.1,390.0 309.7,389.5 310.3,388.5 310.9,387.8 311.5,387.9 312.0,388.3 312.6,388.9 313.2,389.2 313.8,389.1 314.4,389.5 315.0,389.9 315.6,390.6 316.2,390.3 316.7,389.8 317.3,389.2 317.9,389.4 318.5,389.2 319.1,389.2 319.7,389.2 320.3,389.8 320.9,390.3 321.5,391.0 322.0,390.9 322.6,390.7 323.2,390.4 323.8,391.0 324.4,391.3 325.0,391.1 325.6,390.3 326.2,389.3 326.8,388.4 327.3,388.5 327.9,389.3 328.5,389.6 329.1,390.3 329.7,390.6 330.3,390.2 330.9,390.0 331.5,390.0 332.0,389.4 332.6,388.8 333.2,388.5 333.8,388.4 334.4,388.1 335.0,388.4 335.6,388.9 336.2,389.0 336.8,389.3 337.3,389.7 337.9,389.0 338.5,388.2 339.1,387.4 339.7,385.5 340.3,383.3 340.9,381.7 341.2,381.5 341.5,381.2 342.1,382.8 342.6,384.6 343.2,386.3 343.8,387.8 344.4,388.5 345.0,389.9 345.6,390.5 346.2,390.7 346.8,390.5 347.3,390.1 347.9,389.7 348.5,389.9 349.1,390.3 349.7,390.8 350.3,390.8 350.9,390.6 351.5,390.3 352.1,390.6 352.6,390.7 353.2,390.8 353.8,389.7 354.4,388.6 355.0,387.5 355.6,387.5 356.2,387.6 356.8,387.9 357.3,388.2 357.9,388.9 358.5,389.2 359.1,389.4 359.7,388.9 360.3,387.3 360.9,387.6 361.5,387.6 362.1,388.0 362.6,388.6 363.2,389.2 363.8,389.6 364.4,389.9 365.0,389.9 365.6,390.1 366.2,389.9 366.8,389.8 367.4,389.9 367.9,390.0 368.5,389.7 369.1,389.9 369.7,389.9 370.3,390.9 370.9,391.5 371.5,391.9 372.1,391.2 372.6,390.8 373.2,392.9 373.8,390.2 374.4,389.8 375.0,389.4 375.6,388.5 376.2,386.9 376.8,384.9 377.4,382.8 377.9,380.5 378.5,382.8 379.1,384.7 379.7,386.4 380.3,387.5 380.9,388.5 381.5,389.3 382.1,389.5 382.7,389.8 383.2,389.7 383.8,389.4 384.4,388.6 385.0,389.8 385.6,389.3 386.2,389.0 386.8,388.8 387.4,388.9 387.9,389.0 388.5,389.5 389.1,390.1 389.7,390.2 390.3,390.8 390.9,391.3 391.5,391.3 392.1,391.1 392.7,391.0 393.2,390.5 393.8,389.9 394.4,390.0 395.0,390.0 395.6,390.2 396.2,390.0 396.8,390.4 397.4,390.7 397.9,391.2 398.5,391.2 399.1,390.6 399.7,389.7 400.3,389.5 400.9,389.5 401.5,389.9 402.1,390.5 402.7,390.5 403.2,390.2 403.8,390.0 404.4,389.5 405.0,389.3 405.6,389.1 406.2,389.0 406.8,388.3 407.4,386.9 408.0,384.5 408.5,381.3 409.3,377.2 409.7,379.2 410.3,382.2 410.9,385.6 411.5,387.9 412.1,388.9 412.7,388.9 413.2,388.7 413.8,388.2 414.4,386.7 415.0,387.8 415.6,387.9 416.2,388.2 416.8,388.8 417.4,389.6 418.0,390.3 418.5,390.2 419.1,389.8 419.7,389.1 420.3,388.6 420.9,389.4 421.5,388.7 422.1,388.4 422.7,388.1 423.3,387.5 423.8,387.2 424.4,387.2 425.0,387.8 425.6,388.4 426.2,388.9 426.8,388.9 427.4,388.9 428.0,389.1 428.5,389.6 429.1,390.2 429.7,389.4 430.3,389.1 430.9,388.0 431.5,386.1 432.1,382.0 432.7,375.4 433.3,366.3 433.8,357.9 434.4,344.8 435.0,336.9 435.5,335.1 436.2,338.2 436.8,344.8 437.4,349.9 438.0,350.3 438.5,346.0 439.1,339.2 439.7,333.5 440.2,331.9 440.9,339.1 441.5,348.6 442.1,359.7 442.7,370.3 443.3,377.9 443.8,383.1 444.4,386.2 445.0,387.1 445.6,387.7 446.2,388.4 446.8,388.8 447.4,388.9 448.0,390.1 448.6,390.1 449.1,390.1 449.7,389.7 450.3,389.1 450.9,388.2 451.5,388.7 452.1,389.1 452.7,389.1 453.3,388.7 453.8,388.0 454.4,386.4 455.0,383.8 455.6,380.4 456.2,377.1 456.6,376.6 457.4,379.1 458.0,382.9 458.6,386.4 459.1,388.5 459.7,390.2 460.3,391.8 460.9,392.7 461.5,392.0 462.1,391.5 462.7,390.5 463.3,389.9 463.8,387.5 464.4,390.2 465.0,390.6 465.6,390.1 466.2,389.9 466.8,389.4 467.4,389.0 468.0,389.2 468.6,389.5 469.1,389.7 469.7,389.9 470.3,390.2 470.9,390.9 471.5,391.3 472.1,391.1 472.7,391.0 473.3,390.8 473.9,390.8 474.4,391.1 475.0,391.2 475.6,391.1 476.2,391.1 476.8,391.1 477.4,390.8 478.0,390.6 478.6,390.3 479.1,390.2 479.7,390.6 480.3,390.9 480.9,390.9 481.5,390.7 482.1,390.9 482.7,391.3 483.3,391.5 483.9,391.3 484.4,391.4 485.0,391.5 485.6,392.0 486.2,392.8 486.8,392.3 487.4,391.4 488.0,391.0 488.6,390.5 489.2,390.0 489.7,390.2 490.3,390.6 490.9,391.0 491.5,391.6 492.1,392.0 492.7,391.9 493.3,391.4 493.9,391.0 494.4,390.5 495.0,390.5 495.6,391.1 496.2,391.4 496.8,391.8 497.4,389.3 498.0,391.3 498.6,390.6 499.2,389.5 499.7,387.7 500.5,385.9 500.9,387.1 501.5,387.8 502.1,388.7 502.7,389.4 503.3,389.9 503.9,390.4 504.4,390.8 505.0,391.2 505.6,391.9 506.2,392.4 506.8,391.5 507.4,390.9 508.0,389.7 508.6,389.3 509.2,389.6 509.7,389.8 510.3,390.1 510.9,390.9 511.5,391.4 512.1,392.1 512.7,392.6 513.3,392.6 513.9,392.1 514.5,391.5 515.0,391.2 515.6,390.8 516.2,390.8 516.8,391.1 517.4,391.6 518.0,392.2 518.6,393.1 519.2,392.9 519.7,392.4 520.3,391.5 520.9,390.6 521.5,389.8 522.1,389.2 522.7,390.1 523.3,390.2 523.9,390.3 524.5,390.4 525.0,389.7 525.6,389.6 526.2,389.6 526.8,389.5 527.4,389.1 528.0,387.5 528.6,383.3 529.2,378.7 529.8,374.3 530.2,374.5 530.9,376.4 531.5,382.0 532.1,386.8 532.7,390.2 533.3,391.3 533.9,391.1 534.5,390.9 535.0,391.3 535.6,392.0 536.2,392.3 536.8,392.3 537.4,391.7 538.0,391.1 538.6,390.8 539.2,390.9 539.8,390.9 540.3,391.5 540.9,392.1 541.5,392.5 542.1,391.8 542.7,390.6 543.3,389.6 543.9,389.2 544.5,390.2 545.0,391.5 545.6,392.1 546.2,392.1 546.8,392.1 547.4,391.8 548.0,391.9 548.6,391.5 549.2,390.6 549.8,390.4 550.3,390.3 550.9,390.5 551.5,391.1 552.1,391.7 552.7,392.0 553.3,392.5 553.9,391.7 554.5,390.7 555.1,389.7 555.6,389.6 556.2,389.7 556.8,390.1 557.4,389.8 558.0,389.7 558.6,389.1 559.2,388.6 559.5,389.2 559.8,388.0 560.3,388.2 560.9,389.0 561.5,389.4 562.1,388.7 562.7,389.6 563.3,389.6 563.9,390.1 564.5,391.1 565.1,391.7 565.6,392.0 566.2,391.6 566.8,391.2 567.4,391.0 568.0,390.6 568.6,390.5 569.2,390.1 569.8,389.7 570.4,389.3 570.9,389.3 571.5,388.6 572.1,387.7 572.7,386.6 573.3,385.6 573.9,384.9 574.2,384.8 574.5,385.2 575.1,385.8 575.6,386.8 576.2,387.4 576.8,387.9 577.4,387.9 578.0,388.5 578.6,389.0 579.2,390.1 579.8,391.6 580.4,392.7 580.9,393.2 581.5,393.3 582.1,392.5 582.7,391.4 583.3,391.2 583.9,391.3 584.5,391.7 585.1,391.8 585.6,391.3 586.2,390.5 586.8,390.4 587.4,391.0 588.0,391.9 588.6,392.5 589.2,392.5 589.8,392.1 590.4,391.8 590.9,391.0 591.5,390.5 592.1,390.6 592.7,391.2 593.3,391.4 593.9,391.4 594.5,391.1 595.1,391.1 595.7,391.6 596.2,392.1 596.8,392.1 597.4,391.5 598.0,391.2 598.6,390.8 599.2,391.1 599.8,391.5 600.4,392.1 600.9,391.8 601.5,390.6 602.1,391.4 602.7,391.1 603.3,390.7 603.9,390.7 604.5,390.6 605.1,390.7 605.7,390.7 606.2,390.6 606.8,390.5 607.4,391.2 608.0,391.7 608.6,392.7 609.2,393.1 609.8,393.4 610.4,393.3 610.9,394.6 611.5,392.7 612.1,391.8 612.7,390.8 613.3,388.6 613.9,385.6 614.5,382.2 615.1,379.9 615.4,381.1 615.7,381.1 616.2,384.1 616.8,387.2 617.4,389.4 618.0,390.0 618.6,390.0 619.2,392.5 619.8,390.4 620.4,390.3 621.0,390.0 621.5,389.5 622.1,389.4 622.7,390.2 623.3,391.5 623.9,392.7 624.5,393.0 625.1,393.1 625.7,392.6 626.2,392.3 626.8,392.0 627.4,392.7 628.0,393.0 628.6,392.8 629.2,392.4 629.8,391.5 630.4,390.9 631.0,390.7 631.5,390.6 632.1,390.4 632.7,390.8 633.3,390.7 633.9,390.3 634.5,389.6 635.1,389.2 635.7,389.2 636.3,389.7 636.8,389.9 637.4,389.9 638.0,390.0 638.6,390.2 639.2,390.4 639.8,390.7 640.4,391.5 641.0,392.3 641.5,392.1 642.1,391.3 642.7,390.2 643.3,389.7 643.9,390.5 644.5,391.9 645.1,391.8 645.7,391.4 646.3,390.9 646.8,390.7 647.4,391.4 648.0,391.9 648.6,392.0 649.2,391.5 649.8,391.0 650.4,390.8 651.0,391.7 651.5,391.9 652.1,392.0 652.7,391.5 653.3,390.9 653.9,390.9 654.5,391.4 655.1,391.5 655.7,391.4 656.3,391.5 656.8,391.6 657.4,391.4 658.0,391.2 658.6,389.7 659.2,388.4 659.8,386.8 660.2,386.3 661.0,386.2 661.6,387.7 662.1,389.5 662.7,391.3 663.3,392.5 663.9,392.9 664.5,393.6 665.1,393.5 665.7,393.7 666.3,393.3 666.8,392.8 667.4,391.9 668.0,392.2 668.6,391.7 669.2,391.3 669.8,390.8 670.4,390.4 671.0,390.4 671.6,391.3 672.1,391.8 672.7,392.2 673.3,392.2 673.9,391.9 674.5,391.6 675.1,392.3 675.7,392.5 676.3,392.6 676.9,392.1 677.4,391.9 678.0,391.1 678.6,391.1 679.2,391.1 679.8,390.5 680.4,389.9 681.0,390.5 681.6,391.1 682.1,391.6 682.7,392.3 683.3,392.4 683.9,392.9 684.5,393.1 685.1,393.2 685.7,392.6 686.3,392.1 686.9,391.8 687.4,392.0 688.0,391.9 688.6,391.4 689.2,390.9 689.8,390.3 690.4,390.0 691.0,390.0 691.6,390.4 692.1,390.8 692.7,390.2 693.3,388.3 693.9,384.9 694.5,380.6 695.2,377.1 695.7,376.5 696.3,378.0 696.9,380.1 697.4,381.8 698.0,382.4 698.5,382.5 699.2,384.7 699.8,386.8 700.4,388.9 701.0,390.1 701.6,390.5 702.2,390.5 702.7,391.1 703.3,391.8 703.9,392.6 704.5,393.3 705.1,393.8 705.7,393.8 706.3,393.7 706.9,393.8 707.4,393.4 708.0,393.6 708.6,393.6 709.2,393.5 709.8,393.4 710.4,393.3 711.0,393.6 711.6,394.0 712.2,394.2 712.7,393.7 713.3,392.7 713.9,391.2 714.5,390.9 715.1,391.2 715.7,391.5 716.3,391.6 716.9,391.6 717.5,391.3 718.0,391.1 718.6,391.4 719.2,391.9 719.8,392.2 720.4,392.7 721.0,392.9 721.6,393.1 722.2,392.9 722.7,392.9 723.3,392.8 723.9,392.9 724.5,392.8 725.1,392.6 725.7,391.7 726.3,391.1 726.9,390.8 727.5,391.1 728.0,391.7 728.6,392.4 729.2,392.7 729.8,392.9 730.4,392.7 731.0,392.5 731.6,392.0 732.2,392.0 732.7,391.0 733.3,390.2 733.9,388.6 734.5,386.8 735.2,385.4 735.7,387.2 736.3,388.6 736.9,389.7 737.5,390.1 738.0,390.4 738.6,391.3 739.2,392.1 739.8,392.6 740.4,392.6 741.0,391.7 741.6,390.9 742.2,390.3 742.8,389.9 743.3,390.1 743.9,390.9 744.5,391.8 745.1,392.5 745.7,392.6 746.3,392.4 746.9,392.3 747.5,391.3 748.0,390.6 748.6,390.2 749.2,390.0 749.8,390.4 750.4,391.3 751.0,391.1 751.6,390.8 752.2,390.8 752.8,390.7 753.3,389.7 753.9,390.8 754.5,390.5 755.1,390.7 755.7,391.2 756.3,391.6 756.9,391.5 757.5,391.2 758.0,390.7 758.6,390.1 759.2,389.8 759.8,390.0 760.4,390.6 761.0,391.1 761.6,391.3 762.2,391.0 762.8,390.8 763.3,390.5 763.9,391.0 764.5,391.3 765.1,392.2 765.7,392.7 766.3,392.8 766.9,392.0 767.5,391.2 768.1,389.8 768.6,388.7 769.2,387.2 769.8,385.1 770.4,383.2 771.0,381.6 771.3,382.6 771.6,381.4 772.2,382.7 772.8,384.6 773.3,386.5 773.9,388.2 774.5,388.8 775.1,389.1 775.7,389.3 776.3,389.8 776.9,390.5 777.5,391.6 778.1,392.0 778.6,392.2 779.2,391.7 779.8,391.3 780.4,390.4 781.0,390.4 781.6,390.8 782.2,391.6 782.8,391.6 783.4,390.9 783.9,389.4 784.5,388.7 785.1,389.0 785.7,389.3 786.3,389.5 786.9,389.1 787.5,388.5 788.1,387.9 788.6,387.3 789.2,387.0 789.8,387.6 790.4,388.0 791.0,388.7 791.6,389.4 792.2,390.1 792.8,390.3 793.4,390.8 793.9,390.5 794.5,390.6 795.1,391.0 795.7,391.3 796.3,390.7 796.9,390.6 797.5,390.2 798.1,389.9 798.6,390.3 799.2,390.6 799.8,390.8 800.4,391.4 801.0,391.7 801.6,391.8 802.2,392.4 802.8,392.6 803.4,393.0 803.9,393.2 804.5,392.9 805.1,392.4 805.7,391.9 806.3,391.0 806.9,390.5 807.5,390.5 808.1,390.9 808.7,391.2 809.2,391.1 809.8,390.6 810.4,390.3 811.0,390.4 811.6,390.7 812.2,391.0 812.8,391.0 813.4,390.8 813.9,390.8 814.5,391.8 815.1,391.2 815.7,391.4 816.3,391.3 816.9,390.8 817.5,389.8 818.1,388.5 818.7,387.3 819.2,386.7 819.8,387.6 820.4,387.4 821.0,388.7 821.6,389.5 822.2,389.8 822.8,390.1 823.4,389.5 824.0,389.3 824.5,389.5 825.1,389.7 825.7,389.9 826.3,390.6 826.9,390.7 827.5,390.5 828.1,389.4 828.7,390.8 829.2,390.7 829.8,390.6 830.4,390.3 831.0,390.0 831.6,390.4"/>
<polyline fill="none" stroke="#a6a6a6" stroke-width="3.5" stroke-linejoin="round" stroke-linecap="round" points="96.1,307.6 96.7,307.4 97.3,307.4 97.9,307.3 98.5,307.2 99.0,307.4 99.6,307.7 100.2,307.6 100.8,307.7 101.4,307.9 102.0,307.5 102.6,307.3 103.2,306.9 103.7,307.0 104.3,307.0 104.9,307.2 105.5,306.9 106.1,306.3 106.7,305.2 107.3,303.4 107.9,301.2 108.5,299.2 109.0,297.3 109.6,297.9 110.2,299.9 110.8,302.0 111.4,304.2 112.0,306.3 112.6,307.9 113.2,308.3 113.8,308.3 114.3,308.5 114.9,308.7 115.5,308.9 116.1,309.1 116.7,308.3 117.3,307.4 117.9,307.1 118.5,306.8 119.0,306.9 119.6,306.5 120.2,306.8 120.8,306.8 121.4,307.2 122.0,307.5 122.6,307.6 123.2,308.0 123.8,308.3 124.3,310.1 124.9,308.6 125.5,308.6 126.1,308.2 126.7,308.2 127.3,308.0 127.9,308.3 128.5,308.2 129.1,308.0 129.6,307.6 130.2,307.6 130.8,307.5 131.4,307.6 132.0,307.5 132.6,307.3 133.2,307.2 133.8,307.4 134.3,308.0 134.9,309.7 135.5,307.9 136.1,308.1 136.7,308.2 137.3,308.1 137.9,308.5 138.5,308.4 139.1,308.5 139.6,308.8 140.2,308.4 140.8,307.4 141.4,306.1 142.0,304.1 142.6,301.1 143.2,296.7 143.8,292.8 144.1,293.0 144.3,292.8 144.9,296.7 145.5,301.8 146.1,306.1 146.7,307.7 147.3,308.9 147.9,309.8 148.5,309.9 149.1,309.7 149.6,309.8 150.2,309.1 150.8,308.9 151.4,308.7 152.0,308.5 152.6,308.5 153.2,308.9 153.8,309.3 154.4,309.6 154.9,310.3 155.5,310.8 156.1,311.2 156.7,311.0 157.3,310.3 157.9,310.1 158.5,309.9 159.1,310.1 159.6,310.4 160.2,310.4 160.8,310.2 161.4,310.5 162.0,310.8 162.6,310.5 163.2,310.5 163.8,310.0 164.4,310.1 164.9,310.6 165.5,310.7 166.1,309.9 166.7,309.5 167.3,309.8 167.9,310.1 168.5,310.6 169.1,310.7 169.6,309.9 170.2,309.2 170.8,309.2 171.4,309.0 172.0,307.7 172.6,305.4 173.2,301.6 173.8,297.4 174.4,295.8 174.9,296.8 175.5,300.7 176.1,304.4 176.7,307.0 177.3,308.6 177.9,309.7 178.5,310.3 179.1,310.9 179.7,310.9 180.2,310.5 180.8,310.5 181.4,310.5 182.0,310.2 182.6,310.3 183.2,310.1 183.8,309.6 184.4,309.0 184.9,308.6 185.5,308.3 186.1,307.1 186.7,303.7 187.3,295.8 187.9,284.3 188.5,272.8 189.1,268.8 189.7,273.5 190.2,285.2 190.8,296.3 191.4,303.8 192.0,308.4 192.6,310.5 193.2,310.9 193.8,310.5 194.4,310.0 195.0,308.9 195.5,309.6 196.1,309.9 196.7,309.6 197.3,309.6 197.9,309.4 198.5,309.2 199.1,309.2 199.7,309.8 200.2,310.0 200.8,309.9 201.4,307.9 202.0,304.0 202.6,297.1 203.2,288.2 203.8,280.9 204.1,279.1 204.4,279.1 205.0,285.8 205.5,295.1 206.1,302.8 206.7,307.7 207.3,309.6 207.9,309.9 208.5,309.3 209.1,309.3 209.7,309.7 210.2,310.9 210.8,311.0 211.4,311.7 212.0,312.1 212.6,312.4 213.2,312.4 213.8,312.0 214.4,311.2 215.0,310.5 215.5,311.0 216.1,311.1 216.7,311.3 217.3,311.4 217.9,311.4 218.5,311.0 219.1,311.0 219.7,311.0 220.3,310.6 220.8,310.5 221.4,310.5 222.0,310.6 222.6,310.8 223.2,311.1 223.8,311.5 224.4,311.6 225.0,311.6 225.5,311.3 226.1,310.9 226.7,310.2 227.3,308.4 227.9,309.5 228.5,308.3 229.1,303.3 229.7,299.1 230.3,287.5 230.8,272.6 231.4,261.1 231.7,260.1 232.0,260.8 232.6,272.6 233.2,287.7 233.8,299.1 234.4,305.8 235.0,309.1 235.6,310.4 236.1,310.8 236.7,311.6 237.3,311.8 237.9,311.7 238.5,311.7 239.1,311.9 239.7,311.8 240.3,312.2 240.8,312.5 241.4,312.5 242.0,312.4 242.6,312.5 243.2,312.6 243.8,312.4 244.4,312.3 245.0,312.5 245.6,312.5 246.1,312.6 246.7,312.8 247.3,312.3 247.9,313.7 248.5,311.7 249.1,311.5 249.7,311.6 250.3,312.1 250.8,312.7 251.4,312.9 252.0,313.0 252.6,312.8 253.2,312.2 253.8,312.6 254.4,313.1 255.0,313.4 255.6,313.5 256.1,313.7 256.7,312.7 257.3,312.8 257.9,313.1 258.5,313.1 259.1,313.3 259.7,313.6 260.3,313.2 260.9,313.1 261.4,313.3 262.0,312.5 262.6,312.8 263.2,312.6 263.8,312.1 264.4,312.3 265.0,312.9 265.6,313.7 266.1,314.0 266.7,314.1 267.3,313.5 267.9,313.2 268.5,313.3 269.1,313.1 269.7,311.9 270.3,308.9 270.9,302.3 271.4,292.2 272.0,281.5 272.8,275.2 273.2,277.8 273.8,287.8 274.4,298.7 275.0,306.6 275.6,313.0 276.2,312.5 276.7,313.0 277.3,312.8 277.9,312.3 278.5,312.1 279.1,311.5 279.7,311.6 280.3,311.4 280.9,311.7 281.4,312.0 282.0,312.5 282.6,312.4 283.2,312.3 283.8,311.9 284.4,311.8 285.0,311.7 285.6,311.8 286.2,311.7 286.7,312.1 287.3,312.7 287.9,312.5 288.5,310.8 289.1,306.3 289.7,299.6 290.3,293.0 290.9,290.4 291.4,293.9 292.0,300.3 292.6,306.1 293.2,309.7 293.8,311.6 294.4,312.2 295.0,312.9 295.6,313.1 296.2,313.7 296.7,314.0 297.3,314.4 297.9,314.3 298.5,314.2 299.1,314.3 299.7,314.2 300.3,314.4 300.9,314.6 301.5,315.0 302.0,315.4 302.6,315.9 303.2,315.4 303.8,315.3 304.4,315.0 305.0,315.3 305.6,315.6 306.2,315.9 306.7,315.8 307.3,315.7 307.9,315.8 308.5,316.1 309.1,316.3 309.7,316.2 310.3,316.1 310.9,316.5 311.5,316.4 312.0,316.3 312.6,316.0 313.2,315.4 313.8,314.7 314.4,314.9 315.0,315.1 315.6,315.1 316.2,315.8 316.7,315.9 317.3,316.1 317.9,316.2 318.5,316.6 319.1,316.2 319.7,315.8 320.3,315.1 320.9,315.3 321.5,315.5 322.0,315.8 322.6,315.8 323.2,315.8 323.8,315.6 324.4,315.5 325.0,315.4 325.6,314.5 326.2,314.1 326.8,314.1 327.3,314.1 327.9,314.5 328.5,314.5 329.1,314.2 329.7,313.8 330.3,314.4 330.9,315.8 331.5,314.9 332.0,315.1 332.6,315.4 333.2,315.5 333.8,315.7 334.4,314.7 335.0,314.0 335.6,313.3 336.2,313.2 336.8,313.2 337.3,313.8 337.9,313.9 338.5,313.9 339.1,313.1 339.7,311.2 340.3,308.2 340.9,306.0 341.2,305.5 341.5,305.9 342.1,308.1 342.6,310.7 343.2,313.0 343.8,314.1 344.4,314.6 345.0,314.8 345.6,315.3 346.2,315.3 346.8,315.9 347.3,316.0 347.9,316.0 348.5,315.2 349.1,315.0 349.7,314.6 350.3,314.4 350.9,314.1 351.5,313.7 352.1,313.2 352.6,313.6 353.2,314.7 353.8,315.7 354.4,316.3 355.0,316.2 355.6,315.6 356.2,315.2 356.8,315.7 357.3,316.4 357.9,316.7 358.5,316.4 359.1,315.6 359.7,314.6 360.3,314.2 360.9,314.3 361.5,314.9 362.1,315.6 362.6,316.3 363.2,316.9 363.8,317.0 364.4,317.0 365.0,317.0 365.6,316.5 366.2,315.9 366.8,315.4 367.4,314.4 367.9,313.6 368.5,313.0 369.3,312.6 369.7,312.7 370.3,313.3 370.9,313.5 371.5,313.7 372.1,314.1 372.6,314.8 373.2,315.2 373.8,315.7 374.4,315.4 375.0,314.7 375.6,313.7 376.2,312.3 376.8,310.1 377.4,308.6 377.9,305.9 378.5,309.1 379.1,311.6 379.7,313.8 380.3,314.6 380.9,314.8 381.5,314.4 382.1,314.5 382.7,315.2 383.2,315.8 383.8,316.0 384.4,315.9 385.0,315.0 385.6,314.7 386.2,314.6 386.8,314.5 387.4,315.0 387.9,315.5 388.5,315.2 389.1,314.6 389.7,314.7 390.3,314.3 390.9,315.1 391.5,315.8 392.1,316.2 392.7,315.8 393.2,315.5 393.8,316.9 394.4,315.2 395.0,315.2 395.6,315.2 396.2,315.3 396.8,315.3 397.4,316.1 397.9,316.1 398.5,316.0 399.1,315.9 399.7,315.5 400.3,315.5 400.9,316.3 401.5,316.4 402.1,316.4 402.7,316.6 403.2,315.7 403.8,314.5 404.4,313.6 405.0,312.8 405.6,312.3 406.2,312.7 406.8,312.5 407.4,310.5 408.0,306.9 408.5,303.2 409.3,300.1 409.7,302.8 410.3,306.8 410.9,310.7 411.5,312.8 412.1,314.0 412.7,314.3 413.2,314.8 413.8,315.0 414.4,315.0 415.0,314.6 415.6,314.6 416.2,314.3 416.8,314.0 417.4,313.8 418.0,313.0 418.5,312.8 419.1,313.6 419.7,314.5 420.3,315.2 420.9,315.3 421.5,314.8 422.1,314.1 422.7,313.9 423.3,314.1 423.8,314.6 424.4,314.7 425.0,314.6 425.6,313.9 426.2,313.9 426.8,313.9 427.4,313.6 428.0,313.1 428.5,313.0 429.1,313.0 429.7,313.3 430.3,313.0 430.9,310.5 431.5,305.9 432.1,299.3 432.7,290.0 433.3,278.4 433.8,265.7 434.4,253.9 435.2,246.6 435.6,249.2 436.2,257.5 436.8,268.3 437.4,276.5 438.0,278.3 438.5,274.0 439.1,265.7 439.7,256.2 440.5,254.2 440.9,254.7 441.5,263.8 442.1,275.8 442.7,287.9 443.3,297.0 443.8,303.9 444.4,308.5 445.0,310.7 445.6,311.3 446.2,311.6 446.8,312.1 447.4,313.1 448.0,314.0 448.6,314.6 449.1,314.5 449.7,314.0 450.3,313.3 450.9,312.6 451.5,312.5 452.1,312.7 452.7,313.0 453.3,312.6 453.8,311.7 454.4,310.0 455.0,307.9 455.6,304.7 456.2,301.9 456.6,300.1 457.4,304.0 458.0,308.3 458.6,311.6 459.1,313.1 459.7,313.3 460.3,313.1 460.9,313.2 461.5,314.3 462.1,315.6 462.7,316.3 463.3,316.1 463.8,316.0 464.4,314.8 465.0,314.1 465.6,314.2 466.2,314.1 466.8,313.8 467.4,314.1 468.0,314.3 468.6,314.4 469.1,315.0 469.7,315.4 470.3,315.6 470.9,315.8 471.5,315.7 472.1,315.1 472.7,314.1 473.3,313.1 473.9,312.5 474.4,313.2 475.0,314.3 475.6,315.1 476.2,315.2 476.8,314.8 477.4,314.3 478.0,314.3 478.6,314.2 479.1,314.2 479.7,314.6 480.3,314.5 480.9,314.7 481.5,314.3 482.1,314.1 482.7,313.9 483.3,314.1 483.9,314.1 484.4,315.0 485.0,315.6 485.6,316.6 486.2,317.2 486.8,316.4 487.4,315.5 488.0,315.1 488.6,314.6 489.2,314.8 489.7,315.4 490.3,315.5 490.9,315.9 491.5,316.0 492.1,315.9 492.7,315.6 493.3,315.7 493.9,315.3 494.4,315.8 495.0,315.9 495.6,316.7 496.2,316.7 496.8,316.5 497.4,315.9 498.0,314.8 498.6,313.3 499.2,312.4 499.7,311.7 500.5,312.0 500.9,313.0 501.5,314.3 502.1,314.8 502.7,314.8 503.3,314.2 503.9,313.9 504.4,313.7 505.0,314.0 505.6,313.6 506.2,313.0 506.8,312.5 507.4,312.9 508.0,313.7 508.6,314.7 509.2,314.5 509.7,314.7 510.3,314.7 510.9,315.6 511.5,316.7 512.1,317.6 512.7,316.9 513.3,316.9 513.9,315.8 514.5,315.3 515.0,315.3 515.6,315.7 516.2,316.2 516.8,317.1 517.4,317.3 518.0,317.5 518.6,317.0 519.2,316.2 519.7,315.3 520.3,314.8 520.9,314.8 521.5,315.6 522.1,316.6 522.7,317.1 523.3,317.3 523.9,316.7 524.5,315.8 525.0,315.3 525.6,315.3 526.2,315.2 526.8,315.3 527.4,314.7 528.0,313.3 528.6,311.0 529.2,307.7 529.8,303.7 530.5,302.6 530.9,303.2 531.5,307.4 532.1,311.7 532.7,314.3 533.3,315.0 533.9,314.8 534.5,314.7 535.0,315.3 535.6,316.2 536.2,316.5 536.8,316.5 537.4,316.1 538.0,315.4 538.6,315.3 539.2,316.1 539.8,315.6 540.3,315.6 540.9,315.9 541.5,315.7 542.1,315.4 542.7,315.6 543.3,315.9 543.9,316.6 544.5,317.0 545.0,316.6 545.6,316.0 546.2,316.0 546.8,316.0 547.4,316.0 548.0,315.9 548.6,315.0 549.2,314.6 549.8,314.3 550.3,314.3 550.9,313.9 551.5,314.2 552.1,314.8 552.7,315.8 553.3,316.6 553.9,317.0 554.5,316.5 555.1,315.5 555.6,315.4 556.2,315.4 556.8,316.2 557.4,316.3 558.0,315.9 558.6,314.7 559.2,314.4 559.5,314.2 559.8,315.5 560.3,315.7 560.9,315.2 561.5,315.1 562.1,315.2 562.7,315.7 563.3,316.2 563.9,315.7 564.5,314.5 565.1,314.3 565.6,314.9 566.2,315.7 566.8,316.3 567.4,316.5 568.0,316.6 568.6,316.5 569.2,319.0 569.8,315.7 570.4,314.8 570.9,313.8 571.5,313.2 572.1,312.0 572.7,310.8 573.3,309.6 573.9,310.6 574.2,309.8 574.5,309.6 575.1,310.2 575.6,311.1 576.2,312.0 576.8,313.5 577.4,314.4 578.0,315.4 578.6,316.1 579.2,316.4 579.8,316.8 580.4,316.6 580.9,316.3 581.5,316.6 582.1,317.1 582.7,317.1 583.3,317.1 583.9,316.4 584.5,315.9 585.1,315.9 585.6,316.0 586.2,316.3 586.8,316.7 587.4,317.2 588.0,317.6 588.6,318.2 589.2,318.4 589.8,318.2 590.4,317.6 590.9,316.4 591.5,315.5 592.1,315.4 592.7,316.3 593.3,317.2 593.9,318.0 594.5,318.1 595.1,317.7 595.7,317.6 596.2,318.0 596.8,318.3 597.4,319.2 598.0,319.4 598.6,319.1 599.2,318.5 599.8,318.2 600.4,317.5 600.9,317.5 601.5,317.8 602.1,317.6 602.7,317.9 603.3,318.4 603.9,318.4 604.5,317.5 605.1,316.5 605.7,315.8 606.2,315.7 606.8,316.4 607.4,316.6 608.0,316.8 608.6,317.1 609.2,317.0 609.8,316.8 610.4,316.7 610.9,316.3 611.5,315.9 612.1,316.2 612.7,315.5 613.3,313.6 613.9,310.2 614.5,307.2 614.9,304.3 615.7,306.3 616.2,307.4 616.8,307.8 617.6,308.5 618.0,310.0 618.6,312.6 619.2,314.2 619.8,315.3 620.4,315.1 621.0,315.2 621.5,315.5 622.1,315.9 622.7,316.2 623.3,317.0 623.9,317.1 624.5,316.7 625.1,316.1 625.7,315.6 626.2,315.7 626.8,316.1 627.4,316.8 628.0,317.2 628.6,317.0 629.2,316.6 629.8,316.7 630.4,316.1 631.0,316.2 631.5,315.7 632.1,316.4 632.7,314.5 633.3,313.5 633.9,312.3 634.5,311.3 635.1,311.7 635.7,313.5 636.3,315.3 636.8,316.7 637.4,317.8 638.0,317.7 638.6,317.1 639.2,316.8 639.8,316.3 640.4,316.1 641.0,316.0 641.5,315.5 642.1,317.1 642.7,315.6 643.3,316.4 643.9,316.5 644.5,316.8 645.1,316.6 645.7,316.2 646.3,316.0 646.8,316.5 647.4,316.7 648.0,317.3 648.6,318.0 649.2,318.2 649.8,318.1 650.4,317.2 651.0,316.2 651.5,315.6 652.1,315.4 652.7,315.9 653.3,316.9 653.9,317.2 654.5,317.7 655.1,317.7 655.7,317.6 656.3,317.0 656.8,316.2 657.4,315.1 658.0,313.9 658.6,312.4 659.2,311.2 659.5,311.3 659.8,310.8 660.4,311.9 661.0,313.2 661.6,314.3 662.1,315.1 662.7,315.4 663.3,315.3 663.9,315.6 664.5,316.2 665.1,316.8 665.7,317.5 666.3,318.2 666.8,317.9 667.4,317.3 668.0,316.3 668.6,315.9 669.2,315.8 669.8,316.7 670.4,317.5 671.0,317.8 671.6,317.2 672.1,316.4 672.7,316.3 673.3,316.7 673.9,317.5 674.5,317.8 675.1,317.5 675.7,316.5 676.3,316.0 676.9,315.2 677.4,314.9 678.0,314.7 678.6,315.1 679.2,315.7 679.8,316.6 680.4,316.8 681.0,317.2 681.6,316.4 682.1,315.5 682.7,315.3 683.3,315.3 683.9,315.5 684.5,316.2 685.1,316.2 685.7,316.0 686.3,315.9 686.9,315.3 687.4,314.4 688.0,313.8 688.6,313.6 689.2,314.2 689.8,315.1 690.4,315.4 691.0,316.3 691.6,316.1 692.1,316.6 692.7,315.9 693.3,314.2 693.9,311.0 694.5,308.0 695.2,306.1 695.7,306.6 696.3,308.8 696.9,310.5 697.4,310.7 698.0,310.8 698.5,310.5 699.2,311.9 699.8,313.4 700.4,315.1 701.0,315.5 701.6,315.9 702.2,315.6 702.7,315.3 703.3,314.6 703.9,314.6 704.5,313.9 705.1,313.9 705.7,314.3 706.3,315.5 706.9,315.9 707.4,316.7 708.0,316.3 708.6,315.7 709.2,315.2 709.8,314.9 710.4,314.7 711.0,315.4 711.6,315.6 712.2,315.5 712.7,315.6 713.3,315.8 713.9,316.2 714.5,316.5 715.1,316.5 715.7,315.8 716.3,315.6 716.9,315.9 717.5,316.9 718.0,317.3 718.6,317.6 719.2,316.6 719.8,315.1 720.2,314.2 721.0,314.8 721.6,315.4 722.2,315.7 722.7,318.5 723.3,315.7 723.9,315.8 724.5,315.9 725.1,316.4 725.7,316.6 726.3,316.7 726.9,316.6 727.5,316.0 728.0,315.3 728.6,315.7 729.2,316.1 729.8,316.6 730.4,317.1 731.0,316.8 731.6,316.4 732.2,316.2 732.7,315.4 733.3,314.6 733.9,313.2 734.5,311.1 735.2,310.9 735.7,310.4 736.3,311.7 736.9,313.6 737.5,315.1 738.0,315.7 738.6,315.9 739.2,316.2 739.8,316.3 740.4,316.9 741.0,317.0 741.6,317.2 742.2,316.8 742.8,316.6 743.3,316.2 743.9,316.9 744.5,317.4 745.1,317.9 745.7,318.0 746.3,317.6 746.9,316.8 747.5,316.5 748.0,316.4 748.6,316.5 749.2,316.7 749.8,316.9 750.4,316.9 751.0,316.9 751.6,316.8 752.2,316.7 752.8,316.6 753.3,316.5 753.9,316.7 754.5,316.8 755.1,316.8 755.7,316.2 756.3,315.9 756.9,316.0 757.5,316.3 758.0,316.8 758.6,317.2 759.2,317.5 759.8,317.5 760.4,316.9 761.0,316.3 761.6,315.9 762.2,315.4 762.8,315.7 763.3,316.2 763.9,316.4 764.5,316.5 765.1,316.6 765.7,316.3 766.3,316.6 766.9,316.3 767.5,315.7 768.1,314.3 768.6,311.9 769.2,308.7 769.8,306.8 770.4,305.3 770.7,306.1 771.0,305.9 771.6,307.2 772.2,308.3 772.8,310.3 773.3,312.0 773.9,313.4 774.5,314.6 775.1,315.7 775.7,316.7 776.3,317.0 776.9,317.7 777.5,317.8 778.1,317.6 778.6,316.6 779.2,316.5 779.8,315.8 780.4,315.6 781.0,315.8 781.6,316.6 782.2,316.5 782.8,316.8 783.4,316.5 783.9,316.4 784.5,317.1 785.1,317.5 785.7,317.6 786.3,316.4 786.9,315.4 787.5,314.4 788.1,315.3 788.6,315.9 789.2,316.7 789.8,316.2 790.4,315.4 791.0,314.1 791.6,313.2 792.2,313.0 792.5,313.1 792.8,314.4 793.4,315.0 793.9,315.1 794.5,312.9 795.1,314.8 795.7,315.2 796.3,315.8 796.9,316.2 797.5,315.8 798.1,315.1 798.6,315.1 799.2,315.3 799.8,315.5 800.4,316.0 801.0,316.1 801.6,315.9 802.2,315.7 802.8,315.9 803.4,316.0 803.9,316.1 804.5,316.0 805.1,316.1 805.7,316.6 806.3,316.9 806.9,317.3 807.5,317.0 808.1,316.8 808.7,316.7 809.2,317.6 809.8,317.9 810.4,317.9 811.0,317.2 811.6,316.8 812.2,316.5 812.8,317.3 813.4,318.4 813.9,318.6 814.5,318.2 815.1,317.2 815.7,315.7 816.3,315.2 816.9,315.5 817.5,315.3 818.1,315.5 818.7,314.6 819.2,312.9 819.8,312.6 820.4,312.9 821.0,314.2 821.6,315.4 822.2,316.3 822.8,316.5 823.4,316.6 824.0,316.2 824.5,315.5 825.1,315.3 825.7,315.3 826.3,315.9 826.9,317.0 827.5,317.5 828.1,317.5 828.7,318.1 829.2,318.4 829.8,318.9 830.4,319.5 831.0,319.5 831.6,318.8"/>
<polyline fill="none" stroke="#1f5aa6" stroke-width="3.5" stroke-linejoin="round" stroke-linecap="round" points="929.4,443.2 930.0,442.3 930.6,441.6 931.2,441.9 931.8,442.8 932.3,445.2 932.9,445.4 933.5,444.9 934.1,443.9 934.7,442.5 935.3,440.6 935.9,439.8 936.5,439.2 937.0,439.9 937.6,441.4 938.2,443.0 938.8,443.1 939.4,443.0 940.0,440.7 940.6,437.8 941.2,435.0 941.8,433.4 942.3,431.2 942.9,429.5 943.5,428.5 944.1,431.0 944.7,429.2 945.3,431.8 945.9,434.3 946.5,435.7 947.0,437.6 947.6,438.3 948.2,439.8 948.8,440.4 949.4,440.7 950.0,440.2 950.6,440.5 951.2,441.0 951.8,442.0 952.3,443.7 952.9,445.0 953.5,445.6 954.1,446.3 954.7,447.8 955.3,448.0 955.9,448.6 956.5,448.3 957.0,446.7 957.6,445.4 958.2,445.6 958.8,445.6 959.4,445.7 960.0,445.0 960.6,442.8 961.2,443.8 961.8,441.3 962.3,441.7 962.9,442.9 963.5,444.0 964.1,444.3 964.7,444.5 965.3,445.4 965.9,444.8 966.5,444.2 967.0,442.7 967.6,441.6 968.2,440.8 968.8,441.0 969.4,439.9 970.0,439.5 970.6,438.0 971.2,437.0 971.8,435.7 972.3,434.8 972.9,432.8 973.5,431.0 974.1,429.1 974.7,428.7 975.3,427.4 976.0,427.8 976.5,427.6 977.0,428.3 977.6,428.7 978.2,432.1 978.8,431.8 979.4,433.6 980.0,435.7 980.6,437.6 981.2,439.0 981.7,441.2 982.3,442.1 982.9,443.9 983.5,444.0 984.1,443.4 984.7,442.4 985.3,442.7 985.9,442.7 986.5,444.4 987.0,446.1 987.6,447.4 988.2,447.8 988.8,448.9 989.4,448.3 990.0,447.1 990.6,446.0 991.2,445.3 991.7,444.0 992.3,444.6 992.9,445.1 993.5,445.0 994.1,446.3 994.7,448.5 995.3,450.6 995.9,452.1 996.5,453.0 997.0,451.9 997.6,451.1 998.2,450.6 998.8,451.2 999.4,451.6 1000.0,452.6 1000.6,453.5 1001.2,454.7 1001.7,454.3 1002.3,453.0 1002.9,451.7 1003.5,450.8 1004.1,450.9 1004.7,451.8 1005.3,452.5 1005.9,452.7 1006.5,453.0 1007.0,453.1 1007.6,452.5 1008.2,452.5 1008.8,452.2 1009.4,452.4 1010.0,452.5 1010.6,452.9 1011.2,452.4 1011.7,452.1 1012.3,451.7 1012.9,451.2 1013.5,450.5 1014.1,450.2 1014.7,450.1 1015.3,450.1 1015.9,451.2 1016.5,451.6 1017.0,451.8 1017.6,452.6 1018.2,453.0 1018.8,452.9 1019.4,453.5 1020.0,453.4 1020.6,452.2 1021.2,451.4 1021.7,450.5 1022.3,450.6 1022.9,450.5 1023.5,450.7 1024.1,450.6 1024.7,450.8 1025.3,451.1 1025.9,451.6 1026.5,451.1 1027.0,450.7 1027.6,453.7 1028.2,452.0 1028.8,453.2 1029.4,453.4 1030.0,452.8 1030.6,451.6 1031.2,450.5 1031.7,450.3 1032.3,450.0 1032.9,449.2 1033.5,448.6 1034.1,448.5 1034.7,448.5 1035.3,449.1 1035.9,449.7 1036.5,449.4 1037.0,449.1 1037.6,447.9 1038.2,446.7 1038.8,445.7 1039.4,443.9 1040.0,439.3 1040.6,429.8 1041.2,408.4 1041.7,368.2 1042.3,307.8 1042.9,240.2 1043.7,194.0 1044.1,212.3 1044.7,271.6 1045.3,338.3 1045.9,388.7 1046.5,418.8 1047.0,433.6 1047.6,440.5 1048.2,443.3 1048.8,445.0 1049.4,445.2 1050.0,446.3 1050.6,447.7 1051.2,450.2 1051.7,452.1 1052.3,453.4 1052.9,453.5 1053.5,452.5 1054.1,451.5 1054.7,450.6 1055.3,450.1 1055.9,449.6 1056.5,450.2 1057.0,450.3 1057.6,450.2 1058.2,450.0 1058.8,449.7 1059.4,448.6 1060.0,448.0 1060.6,447.4 1061.2,445.8 1061.7,444.3 1062.3,444.0 1062.9,444.2 1063.7,446.2 1064.1,446.1 1064.7,446.1 1065.3,445.9 1065.9,446.5 1066.5,447.1 1067.0,446.3 1067.6,448.3 1068.2,448.8 1068.8,449.2 1069.4,449.7 1070.0,449.8 1070.6,450.2 1071.2,452.2 1071.7,452.3 1072.3,452.4 1072.9,452.7 1073.5,452.0 1074.1,454.2 1074.7,455.4 1075.3,455.2 1075.9,453.5 1076.4,452.5 1077.0,452.1 1077.6,452.6 1078.2,453.4 1078.8,453.6 1079.4,453.5 1080.0,453.6 1080.6,453.8 1081.2,454.3 1081.7,454.7 1082.3,455.2 1082.9,456.2 1083.5,456.2 1084.1,455.8 1084.7,454.9 1085.3,454.5 1085.9,454.2 1086.4,455.1 1087.0,455.7 1087.6,456.4 1088.2,456.3 1088.8,456.3 1089.4,455.3 1090.0,455.0 1090.6,455.5 1091.2,455.8 1091.7,455.7 1092.3,455.6 1092.9,455.2 1093.5,455.8 1094.1,456.9 1094.7,457.6 1095.3,457.4 1095.9,457.6 1096.4,457.5 1097.0,458.2 1097.6,458.6 1098.2,458.0 1098.8,456.2 1099.4,454.9 1100.0,454.6 1100.6,455.0 1101.2,456.4 1101.7,457.3 1102.3,457.9 1102.9,458.2 1103.5,458.6 1104.1,457.9 1104.7,457.0 1105.3,457.0 1105.9,456.7 1106.4,457.5 1107.0,458.9 1107.6,459.2 1108.2,458.9 1108.8,458.2 1109.4,457.4 1110.0,457.0 1110.6,456.4 1111.2,456.0 1111.7,456.0 1112.3,455.7 1112.9,456.2 1113.5,456.7 1114.1,456.8 1114.7,457.2 1115.3,458.4 1115.9,459.2 1116.4,459.3 1117.0,458.5 1117.6,457.5 1118.2,456.7 1118.8,456.9 1119.4,456.6 1120.0,456.1 1120.6,455.1 1121.2,455.4 1121.7,456.1 1122.3,456.5 1122.9,456.7 1123.5,457.2 1124.1,458.1 1124.7,458.2 1125.3,458.5 1125.9,458.0 1126.4,458.1 1127.0,458.5 1127.6,458.9 1128.2,458.0 1128.8,457.3 1129.4,457.5 1130.0,458.5 1130.6,459.5 1131.2,460.0 1131.7,459.8 1132.3,459.2 1132.9,458.7 1133.5,458.9 1134.1,459.0 1134.7,460.1 1135.3,460.7 1135.9,460.6 1136.4,460.3 1137.0,459.8 1137.6,458.9 1138.2,458.2 1138.8,458.7 1139.4,459.6 1140.0,460.2 1140.6,460.9 1141.2,461.5 1141.7,461.1 1142.3,461.2 1142.9,462.2 1143.5,462.3 1144.1,462.4 1144.7,462.7 1145.3,461.8 1145.9,460.3 1146.4,459.0 1147.0,458.2 1147.6,458.2 1148.2,458.9 1148.8,459.1 1149.4,459.1 1150.0,458.7 1150.6,458.9 1151.2,459.5 1151.7,459.9 1152.3,459.7 1152.9,459.6 1153.5,459.0 1154.1,458.4 1154.7,458.6 1155.3,460.0 1155.9,461.6 1156.4,462.0 1157.0,461.3 1157.6,460.0 1158.2,458.4 1158.8,455.0 1159.4,457.8 1160.0,457.1 1160.6,456.5 1161.2,457.1 1161.7,457.3 1162.3,457.5 1162.9,458.1 1163.5,457.9 1164.1,456.5 1164.7,455.6 1165.3,455.1 1165.9,454.1 1166.4,452.9 1167.0,448.7 1167.6,440.1 1168.2,427.3 1168.8,409.7 1169.4,387.2 1170.0,363.9 1170.7,347.4 1171.2,352.6 1171.7,372.0 1172.3,396.7 1172.9,418.3 1173.5,434.1 1174.1,444.4 1174.7,450.7 1175.3,454.2 1175.9,456.6 1176.4,457.9 1177.0,457.8 1177.6,457.7 1178.2,457.7 1178.8,458.0 1179.4,458.8 1180.0,459.7 1180.6,460.5 1181.1,461.0 1181.7,461.4 1182.3,461.5 1182.9,461.5 1183.5,461.4 1184.1,461.8 1184.7,462.2 1185.3,462.0 1185.9,461.5 1186.4,460.4 1187.0,459.8 1187.6,459.0 1188.2,458.8 1188.8,458.4 1189.4,458.2 1190.0,458.0 1190.6,459.0 1191.1,459.8 1191.7,461.0 1192.3,461.2 1192.9,460.9 1193.5,459.9 1194.1,460.0 1194.7,460.9 1195.3,461.8 1195.9,462.1 1196.4,462.4 1197.0,461.7 1197.6,461.0 1198.2,461.1 1198.8,461.0 1199.4,460.4 1200.0,461.0 1200.6,461.2 1201.1,461.2 1201.7,460.8 1202.3,460.4 1202.9,459.8 1203.5,460.0 1204.1,460.7 1204.7,461.2 1205.3,461.5 1205.9,461.1 1206.4,461.3 1207.0,461.2 1207.6,460.9 1208.2,460.7 1208.8,460.3 1209.4,459.7 1210.0,459.4 1210.6,459.0 1211.1,457.9 1211.7,457.9 1212.3,457.9 1212.9,458.0 1213.5,458.5 1214.1,458.9 1214.7,457.3 1215.3,455.4 1215.9,452.9 1216.3,449.4 1217.0,452.0 1217.6,453.6 1218.2,454.9 1218.8,457.0 1219.4,458.6 1220.0,460.2 1220.6,461.1 1221.1,461.1 1221.7,460.6 1222.3,457.1 1222.9,459.2 1223.5,459.2 1224.1,460.2 1224.7,461.0 1225.3,461.3 1225.9,461.1 1226.4,461.0 1227.0,461.3 1227.6,462.4 1228.2,462.8 1228.8,462.6 1229.4,461.8 1230.0,460.5 1230.6,459.7 1231.1,459.7 1231.7,459.7 1232.3,459.4 1232.9,458.8 1233.5,458.4 1234.1,459.3 1234.7,460.4 1235.3,461.5 1235.9,461.8 1236.4,461.0 1237.0,460.4 1237.6,460.1 1238.2,459.4 1238.8,458.1 1239.4,457.1 1240.0,456.0 1240.6,456.0 1241.1,455.9 1241.7,455.5 1242.3,455.2 1242.9,454.7 1243.5,454.8 1244.1,452.7 1244.7,448.0 1245.3,439.4 1245.9,428.4 1246.4,416.5 1247.0,412.7 1247.6,418.6 1248.2,430.7 1248.8,442.6 1249.4,451.1 1250.0,455.7 1250.6,457.9 1251.1,459.1 1251.7,459.7 1252.3,460.3 1252.9,461.3 1253.5,462.1 1254.1,462.7 1254.7,462.9 1255.3,462.6 1255.9,462.2 1256.4,462.2 1257.0,462.3 1257.6,463.2 1258.2,463.3 1258.8,463.0 1259.4,462.7 1260.0,461.9 1260.6,461.4 1261.1,462.0 1261.7,462.7 1262.3,463.3 1262.9,463.9 1263.5,464.3 1264.1,464.3 1264.7,464.5 1265.3,463.0 1265.9,461.6 1266.4,460.7 1267.0,461.0 1267.6,461.5 1268.2,462.9 1268.8,462.7 1269.4,462.3 1270.0,462.5 1270.6,462.6 1271.1,462.5 1271.7,462.8 1272.3,462.4 1272.9,461.8 1273.5,461.5 1274.1,461.2 1274.7,461.8 1275.3,462.5 1275.8,462.8 1276.4,462.3 1277.0,461.7 1277.6,461.6 1278.2,462.1 1278.8,463.0 1279.4,463.7 1280.0,463.6 1280.6,462.7 1281.1,462.4 1281.7,461.5 1282.3,461.4 1282.9,461.2 1283.5,461.6 1284.1,461.5 1284.7,461.4 1285.3,460.1 1285.8,457.2 1286.4,452.9 1287.0,449.0 1287.5,448.3 1288.2,450.9 1288.8,455.8 1289.4,459.8 1290.0,461.9 1290.6,462.8 1291.1,462.9 1291.7,463.1 1292.3,463.2 1292.9,462.9 1293.5,462.1 1294.1,461.8 1294.7,461.8 1295.3,462.7 1295.8,463.6 1296.4,462.9 1297.0,462.9 1297.6,463.2 1298.2,463.7 1298.8,464.6 1299.4,464.3 1300.0,464.1 1300.6,466.5 1301.1,462.4 1301.7,461.7 1302.3,462.1 1302.9,461.9 1303.5,463.0 1304.1,463.9 1304.7,463.7 1305.3,463.7 1305.8,463.7 1306.4,463.2 1307.0,462.7 1307.6,462.6 1308.2,462.3 1308.8,462.6 1309.4,463.1 1310.0,463.4 1310.6,464.1 1311.1,464.0 1311.7,463.0 1312.3,462.4 1312.9,461.9 1313.5,462.0 1314.1,463.5 1314.7,464.1 1315.3,464.3 1315.8,464.0 1316.4,463.3 1317.0,462.7 1317.6,462.8 1318.2,463.1 1318.8,463.6 1319.4,464.2 1320.0,464.3 1320.6,463.5 1321.1,462.4 1321.7,461.7 1322.3,461.6 1322.9,461.6 1323.5,462.3 1324.1,462.1 1324.7,461.4 1325.3,460.8 1325.8,461.1 1326.4,461.3 1327.0,462.2 1327.6,463.1 1328.2,463.3 1328.8,463.0 1329.4,462.7 1330.0,462.3 1330.6,462.2 1331.1,461.8 1331.7,461.6 1332.3,461.5 1332.9,461.9 1333.5,462.8 1334.1,463.2 1334.7,463.1 1335.3,462.1 1335.8,461.0 1336.4,460.3 1337.0,460.9 1337.6,461.6 1338.2,462.9 1338.8,463.1 1339.4,463.3 1340.0,462.7 1340.6,462.7 1341.1,463.1 1341.7,463.3 1342.3,463.2 1342.9,462.4 1343.5,461.9 1344.1,460.8 1344.7,460.9 1345.3,461.1 1345.8,462.1 1346.4,463.3 1347.0,463.5 1347.6,463.1 1348.2,462.3 1348.8,462.5 1349.4,462.1 1350.0,463.2 1350.6,462.9 1351.1,462.5 1351.7,462.1 1352.3,461.5 1352.9,461.7 1353.5,461.9 1354.1,462.5 1354.7,462.2 1355.3,462.5 1355.8,462.1 1356.4,462.7 1357.0,463.3 1357.6,463.9 1358.2,463.7 1358.8,463.6 1359.4,463.4 1360.0,463.3 1360.6,463.5 1361.1,463.3 1361.7,462.7 1362.3,462.0 1362.9,461.9 1363.5,462.0 1364.1,462.2 1364.7,463.1 1365.3,463.3 1365.8,463.6 1366.4,462.9 1367.0,462.4 1367.6,461.8 1368.2,461.7 1368.8,461.2 1369.4,461.5 1370.0,462.0 1370.5,462.5 1371.1,463.2 1371.7,463.8 1372.3,463.6 1372.9,463.6 1373.5,464.2 1374.1,464.1 1374.7,464.2 1375.3,464.4 1375.8,464.3 1376.4,464.5 1377.0,465.4 1377.6,465.9 1378.2,466.8 1378.8,466.9 1379.4,466.7 1380.0,462.6 1380.5,464.4 1381.1,464.0 1381.7,464.6 1382.3,464.4 1382.9,465.1 1383.5,465.2 1384.1,465.4 1384.7,464.8 1385.3,464.4 1385.8,463.2 1386.4,460.8 1387.0,461.7 1387.6,462.7 1388.2,462.9 1388.8,463.4 1389.4,463.7 1390.0,463.9 1390.5,463.3 1391.1,463.4 1391.7,463.4 1392.3,463.4 1392.9,464.0 1393.5,464.4 1394.1,464.3 1394.7,464.0 1395.3,464.0 1395.8,463.5 1396.4,463.7 1397.0,462.7 1397.6,461.8 1398.2,461.8 1398.8,462.8 1399.4,463.8 1400.0,465.0 1400.5,464.6 1401.1,463.6 1401.7,463.2 1402.3,464.0 1402.9,465.0 1403.5,465.6 1404.1,464.8 1404.7,464.0 1405.3,463.7 1405.8,463.9 1406.4,464.2 1407.0,464.5 1407.6,464.8 1408.2,465.0 1408.8,465.2 1409.4,464.7 1410.0,463.6 1410.5,462.5 1411.1,461.9 1411.7,462.1 1412.3,462.9 1412.9,464.3 1413.5,464.8 1414.1,463.7 1414.7,461.9 1415.3,461.1 1415.8,460.8 1416.4,462.6 1417.0,463.4 1417.6,462.9 1418.2,461.5 1418.8,460.6 1419.4,460.4 1420.0,460.4 1420.5,460.3 1421.1,460.7 1421.7,460.4 1422.3,460.9 1422.9,460.9 1423.5,461.2 1424.1,461.5 1424.7,462.5 1425.3,463.1 1425.8,461.8 1426.4,463.9 1427.0,464.0 1427.6,463.5 1428.2,465.4 1428.8,462.7 1429.4,461.9 1430.0,461.3 1430.5,461.3 1431.1,460.7 1431.7,460.7 1432.3,460.0 1432.9,458.0 1433.5,455.8 1434.1,454.1 1434.7,451.9 1435.3,448.3 1435.8,440.4 1436.4,426.5 1437.0,406.2 1437.6,379.9 1438.2,352.0 1438.8,332.3 1439.1,329.6 1439.4,332.5 1440.0,353.1 1440.5,381.5 1441.1,407.3 1441.7,426.1 1442.3,436.1 1442.9,447.0 1443.5,450.3 1444.1,456.2 1444.7,459.1 1445.3,460.6 1445.8,462.2 1446.4,463.0 1447.0,463.1 1447.6,462.8 1448.2,462.3 1448.8,462.2 1449.4,462.7 1450.0,463.6 1450.5,464.2 1451.1,464.3 1451.7,463.5 1452.3,462.5 1452.9,462.0 1453.5,462.3 1454.1,463.2 1454.7,464.2 1455.3,463.3 1455.8,465.1 1456.4,464.6 1457.0,464.3 1457.6,464.4 1458.2,464.4 1458.8,464.5 1459.4,464.5 1460.0,464.7 1460.5,465.2 1461.1,465.6 1461.7,465.1 1462.3,464.3 1462.9,464.0 1463.5,464.3 1464.1,465.0 1464.7,465.6 1465.3,466.1 1465.8,465.9 1466.4,465.6 1467.0,465.1 1467.6,464.1 1468.2,462.5 1468.8,461.3 1469.4,460.0 1470.0,458.1 1470.5,455.0 1471.1,448.8 1471.7,440.9 1472.5,434.4 1472.9,436.6 1473.5,443.2 1474.1,450.7 1474.7,456.6 1475.2,460.0 1475.8,462.1 1476.4,463.7 1477.0,465.4 1477.6,467.2 1478.2,468.3 1478.8,468.4 1479.4,467.0 1480.0,465.9 1480.5,464.4 1481.1,464.1 1481.7,464.1 1482.3,464.0 1482.9,463.5 1483.5,463.3 1484.1,463.1 1484.7,463.6 1485.2,464.0 1485.8,464.5 1486.4,464.9 1487.0,466.1 1487.6,467.2 1488.2,468.4 1488.8,468.1 1489.4,467.4 1490.0,466.1 1490.5,465.4 1491.1,465.1 1491.7,465.4 1492.3,466.2 1492.9,466.9 1493.5,467.4 1494.1,466.8 1494.7,466.0 1495.2,465.3 1495.8,465.1 1496.4,465.8 1497.0,466.3 1497.6,466.2 1498.2,466.4 1498.8,466.1 1499.4,465.6 1500.0,465.8 1500.5,466.1 1501.1,465.7 1501.7,466.9 1502.3,467.1 1502.9,466.4 1503.5,466.0 1504.1,465.8 1504.7,465.4 1505.2,466.1 1505.8,466.5 1506.4,465.9 1507.0,465.7 1507.6,465.8 1508.2,465.5 1508.8,466.3 1509.4,466.8 1510.0,466.7 1510.5,466.3 1511.1,466.5 1511.7,466.6 1512.3,467.4 1512.9,468.4 1513.5,468.5 1514.1,468.2 1514.7,466.7 1515.2,466.0 1515.8,465.4 1516.4,466.3 1517.0,466.7 1517.6,467.3 1518.2,466.6 1518.8,466.5 1519.4,466.5 1520.0,467.3 1520.5,467.7 1521.1,468.0 1521.7,468.7 1522.3,469.6 1522.9,469.9 1523.5,469.1 1524.1,467.9 1524.7,466.9 1525.2,466.8 1525.8,467.3 1526.4,467.0 1527.0,465.9 1527.6,464.7 1528.2,464.6 1528.8,464.6 1529.4,465.2 1530.0,465.8 1530.5,465.8 1531.1,465.9 1531.7,466.6 1532.3,467.0 1532.9,466.5 1533.5,466.5 1534.1,465.7 1534.7,465.1 1535.2,465.2 1535.8,465.6 1536.4,467.0 1537.0,468.6 1537.6,469.6 1538.2,469.5 1538.8,469.4 1539.4,468.9 1540.0,468.8 1540.5,468.3 1541.1,468.0 1541.7,467.5 1542.3,467.4 1542.9,467.9 1543.5,468.2 1544.1,468.2 1544.7,468.3 1545.2,468.0 1545.8,467.3 1546.4,467.0 1547.0,467.2 1547.6,467.1 1548.2,466.3 1548.8,465.6 1549.4,464.5 1550.0,464.4 1550.5,464.9 1551.1,466.2 1551.7,467.1 1552.3,467.2 1552.9,466.5 1553.5,466.1 1554.1,466.2 1554.7,466.2 1555.2,466.3 1555.8,466.0 1556.4,463.7 1557.0,466.6 1557.6,466.8 1558.2,466.5 1558.8,466.6 1559.4,466.1 1560.0,464.5 1560.5,461.7 1561.1,456.8 1561.7,452.0 1562.3,448.4 1562.7,449.3 1563.5,451.8 1564.1,456.8 1564.7,461.1 1565.2,464.2 1565.8,466.1 1566.4,466.5 1567.0,466.7 1567.6,466.3 1568.2,466.9 1568.8,467.8 1569.4,468.7 1569.9,468.8 1570.5,467.8 1571.1,466.1 1571.7,465.1 1572.3,465.1 1572.9,465.0 1573.5,465.6 1574.1,466.4 1574.7,466.2 1575.2,465.7 1575.8,464.7 1576.4,461.5 1577.0,464.0 1577.6,464.7 1578.2,464.5 1578.8,463.5 1579.4,460.9 1579.9,458.0 1580.5,454.8 1581.1,453.3 1581.7,454.7 1582.3,456.9 1582.9,458.2 1583.5,458.7 1583.8,459.5 1584.1,460.6 1584.7,462.4 1585.2,465.2 1585.8,466.9 1586.4,467.5 1587.0,466.3 1587.6,465.7 1588.2,464.7 1588.8,465.0 1589.4,465.8 1589.9,466.8 1590.5,467.0 1591.1,466.9 1591.7,466.4 1592.3,465.8 1592.9,466.0 1593.5,466.6 1594.1,467.3 1594.7,467.5 1595.2,467.1 1595.8,466.5 1596.4,465.9 1597.0,465.8 1597.6,466.0 1598.2,465.8 1598.8,465.7 1599.4,466.1 1599.9,466.8 1600.5,467.0 1601.1,467.0 1601.7,466.7 1602.3,466.8 1602.9,467.2 1603.5,467.8 1604.1,467.3 1604.7,466.5 1605.2,465.8 1605.8,465.4 1606.4,465.1 1607.0,465.8 1607.6,466.6 1608.2,467.5 1608.8,468.1 1609.4,468.1 1609.9,467.3 1610.5,467.3 1611.1,467.0 1611.7,466.4 1612.3,466.6 1612.9,467.1 1613.5,467.1 1614.1,467.7 1614.7,467.7 1615.2,466.8 1615.8,466.5 1616.4,466.8 1617.0,466.9 1617.6,467.1 1618.2,467.7 1618.8,467.5 1619.4,467.7 1619.9,467.9 1620.5,468.1 1621.1,468.4 1621.7,468.5 1622.3,468.5 1622.9,468.5 1623.5,468.4 1624.1,467.8 1624.7,467.6 1625.2,466.9 1625.8,465.7 1626.4,465.2 1627.0,465.6 1627.6,466.2 1628.2,467.3 1628.8,465.6 1629.4,467.9 1629.9,467.4 1630.5,466.4 1631.1,466.1 1631.7,465.9 1632.3,466.9 1632.9,466.8 1633.5,466.6 1634.1,465.5 1634.7,463.6 1635.2,464.2 1635.8,464.1 1636.4,464.2 1637.0,464.3 1637.6,465.0 1638.2,466.5 1638.8,466.8 1639.4,466.4 1639.9,466.6 1640.5,466.8 1641.1,466.6 1641.7,466.9 1642.3,467.0 1642.9,465.9 1643.5,465.6 1644.1,466.0 1644.7,465.8 1645.2,462.6 1645.8,466.0 1646.4,465.1 1647.0,464.8 1647.6,465.3 1648.2,465.8 1648.8,465.3 1649.4,465.4 1649.9,464.4 1650.5,463.3 1651.1,461.1 1651.7,457.6 1652.3,452.3 1652.9,446.0 1653.5,439.6 1654.1,434.8 1654.4,436.2 1654.7,434.2 1655.2,438.6 1655.8,445.0 1656.4,451.2 1657.0,456.5 1657.6,461.8 1658.2,461.9 1658.8,462.2 1659.4,462.9 1659.9,463.1 1660.5,463.4 1661.1,463.0 1661.7,462.2 1662.3,460.4 1662.9,460.3 1663.5,460.5 1664.1,461.3 1664.6,461.7"/>
<polyline fill="none" stroke="#ff7f27" stroke-width="3.5" stroke-linejoin="round" stroke-linecap="round" points="929.4,354.9 930.0,354.9 930.6,355.6 931.2,356.5 931.8,356.9 932.3,356.4 932.9,356.0 933.5,356.3 934.1,356.9 934.7,356.7 935.3,355.3 935.9,353.6 936.5,352.2 936.8,352.3 937.0,352.2 937.6,352.8 938.2,353.3 938.8,353.9 939.4,354.5 940.0,354.9 940.6,355.5 941.2,355.7 941.8,356.0 942.3,356.4 942.9,356.0 943.5,355.8 944.1,355.2 944.7,354.8 945.3,354.4 945.9,354.8 946.5,354.9 947.0,355.3 947.6,355.3 948.2,355.3 948.8,354.8 949.4,354.2 950.0,354.3 950.6,354.4 951.2,355.0 951.8,356.0 952.3,356.2 952.9,355.9 953.5,355.4 954.1,354.9 954.7,355.0 955.3,355.1 955.9,354.7 956.5,354.7 957.0,355.2 957.6,355.4 958.2,356.2 958.8,355.9 959.4,355.6 960.0,355.1 960.6,355.7 961.2,353.3 961.8,357.7 962.3,358.7 962.9,359.3 963.5,359.0 964.1,358.3 964.7,357.2 965.3,357.1 965.9,356.9 966.5,356.9 967.0,357.0 967.6,357.0 968.2,356.6 968.8,356.7 969.4,356.6 970.0,356.6 970.6,356.3 971.2,356.5 971.8,356.2 972.3,355.6 972.9,354.9 973.5,355.0 974.1,355.1 974.7,355.6 975.3,355.6 975.9,355.6 976.5,354.9 977.0,354.4 977.6,353.9 978.2,352.2 978.8,349.9 979.4,348.2 979.8,348.7 980.6,349.4 981.2,352.6 981.7,354.9 982.3,355.9 982.9,355.6 983.5,355.0 984.1,355.1 984.7,355.3 985.3,356.0 985.9,356.5 986.5,356.3 987.0,356.0 987.6,356.0 988.2,356.2 988.8,356.6 989.4,357.5 990.0,358.3 990.6,358.1 991.2,358.3 991.7,358.2 992.3,357.6 992.9,357.8 993.5,358.0 994.1,357.4 994.7,357.1 995.3,356.7 995.9,356.2 996.5,356.7 997.0,357.3 997.6,357.9 998.2,358.8 998.8,358.7 999.4,358.4 1000.0,358.1 1000.6,357.3 1001.2,356.4 1001.7,356.5 1002.3,356.6 1002.9,357.0 1003.5,357.5 1004.1,361.0 1004.7,358.3 1005.3,358.7 1005.9,359.2 1006.5,359.4 1007.0,359.8 1007.6,360.1 1008.2,360.1 1008.8,360.0 1009.4,359.2 1010.0,358.3 1010.6,358.1 1011.2,358.4 1011.7,359.1 1012.3,359.9 1012.9,359.4 1013.5,359.2 1014.1,359.2 1014.7,359.0 1015.3,359.4 1015.9,359.5 1016.5,358.2 1017.0,357.4 1017.6,356.9 1018.2,357.0 1018.8,357.4 1019.4,358.0 1020.0,357.7 1020.6,357.3 1021.2,356.4 1021.7,356.2 1022.3,355.8 1022.9,354.5 1023.5,351.0 1024.1,345.5 1024.7,340.2 1025.1,339.4 1025.9,341.3 1026.5,346.2 1027.0,351.3 1027.6,354.8 1028.2,356.8 1028.8,357.8 1029.4,358.5 1030.0,357.5 1030.6,356.8 1031.2,356.4 1031.7,356.2 1032.3,356.5 1032.9,357.5 1033.5,357.7 1034.1,358.4 1034.7,359.4 1035.3,359.9 1035.9,359.5 1036.5,358.8 1037.0,356.4 1037.6,352.7 1038.2,348.2 1038.8,344.3 1039.2,343.1 1040.0,347.0 1040.6,351.6 1041.2,355.4 1041.7,357.6 1042.3,359.3 1042.9,360.3 1043.5,360.5 1044.1,359.6 1044.7,359.4 1045.3,359.1 1045.9,359.0 1046.5,358.9 1047.0,358.8 1047.6,359.1 1048.2,359.8 1048.8,360.6 1049.4,360.9 1050.0,360.7 1050.6,360.3 1051.2,360.7 1051.7,361.3 1052.3,361.9 1052.9,362.4 1053.5,362.4 1054.1,361.5 1054.7,360.7 1055.3,359.8 1055.9,359.2 1056.5,358.7 1057.0,359.7 1057.6,360.4 1058.2,361.4 1058.8,361.8 1059.4,361.6 1060.0,361.0 1060.6,360.2 1061.2,359.1 1061.7,358.6 1062.3,358.0 1062.9,357.2 1063.5,357.4 1064.1,357.1 1064.7,356.2 1065.3,354.3 1065.9,349.0 1066.5,340.8 1067.0,332.0 1067.8,326.3 1068.2,328.8 1068.8,336.9 1069.4,346.1 1070.0,353.2 1070.6,357.5 1071.2,359.3 1071.7,359.2 1072.3,358.3 1072.9,358.1 1073.5,358.3 1074.1,358.6 1074.7,358.4 1075.3,358.1 1075.9,357.7 1076.4,357.9 1077.0,358.4 1077.6,358.9 1078.2,359.1 1078.8,359.7 1079.4,360.4 1080.0,361.2 1080.6,361.6 1081.2,361.4 1081.7,360.8 1082.3,360.2 1082.9,359.6 1083.5,359.6 1084.1,360.6 1084.7,360.1 1085.3,359.4 1085.9,359.1 1086.4,358.9 1087.0,359.2 1087.6,359.5 1088.2,360.1 1088.8,360.1 1089.4,359.7 1090.0,360.3 1090.6,360.2 1091.2,359.5 1091.7,359.2 1092.3,358.9 1092.9,359.1 1093.5,359.3 1094.1,360.2 1094.7,360.0 1095.3,359.4 1095.9,358.7 1096.4,358.4 1097.0,358.5 1097.6,358.9 1098.2,359.3 1098.8,359.3 1099.4,359.3 1100.0,359.1 1100.6,358.7 1101.2,358.7 1101.7,358.8 1102.3,359.3 1102.9,359.2 1103.5,359.3 1104.1,358.8 1104.7,359.0 1105.3,359.1 1105.9,358.2 1106.4,355.2 1107.0,351.4 1107.6,347.0 1108.4,344.4 1108.8,346.4 1109.4,351.2 1110.0,355.7 1110.6,358.4 1111.2,359.1 1111.7,358.3 1112.3,357.5 1112.9,357.6 1113.5,357.7 1114.1,358.3 1114.7,358.1 1115.3,357.8 1115.9,358.3 1116.4,359.6 1117.0,360.7 1117.6,362.0 1118.2,362.7 1118.8,362.3 1119.4,362.2 1120.0,361.4 1120.6,360.5 1121.2,359.4 1121.7,358.8 1122.3,358.4 1122.9,358.1 1123.5,356.7 1124.1,354.4 1124.7,349.6 1125.3,344.1 1126.0,340.9 1126.4,342.8 1127.0,348.4 1127.6,354.7 1128.2,359.2 1128.8,361.3 1129.4,361.7 1130.0,361.0 1130.6,360.1 1131.2,359.1 1131.7,358.7 1132.3,358.6 1132.9,358.2 1133.5,358.3 1134.1,358.9 1134.7,359.3 1135.3,359.6 1135.9,359.7 1136.4,359.4 1137.0,359.4 1137.6,359.7 1138.2,360.0 1138.8,360.4 1139.4,360.8 1140.0,361.3 1140.6,361.3 1141.2,361.0 1141.7,360.7 1142.3,360.5 1142.9,360.6 1143.5,360.0 1144.1,358.7 1144.7,357.8 1145.3,358.0 1145.9,359.3 1146.4,361.2 1147.0,362.3 1147.6,362.1 1148.2,361.1 1148.8,360.4 1149.4,360.0 1150.0,360.1 1150.6,360.4 1151.2,360.9 1151.7,361.0 1152.3,361.1 1152.9,360.7 1153.5,360.0 1154.1,359.4 1154.7,359.6 1155.3,360.1 1155.9,360.9 1156.4,361.5 1157.0,361.8 1157.6,361.7 1158.2,361.3 1158.8,360.6 1159.4,360.6 1160.0,360.4 1160.6,360.3 1161.2,360.0 1161.7,359.5 1162.3,358.7 1162.9,359.3 1163.5,359.5 1164.1,359.3 1164.7,359.5 1165.3,360.1 1165.9,360.4 1166.4,361.1 1167.0,361.2 1167.6,360.3 1168.2,360.0 1168.8,360.2 1169.4,360.7 1170.0,361.2 1170.6,361.0 1171.2,360.3 1171.7,360.1 1172.3,360.5 1172.9,360.8 1173.5,360.6 1174.1,360.0 1174.7,358.6 1175.3,356.7 1175.9,354.0 1176.4,351.5 1176.7,350.8 1177.0,350.2 1177.6,351.8 1178.2,355.1 1178.8,357.6 1179.4,359.5 1180.0,360.0 1180.6,360.2 1181.1,360.1 1181.7,359.9 1182.3,360.0 1182.9,360.4 1183.5,360.3 1184.1,360.4 1184.7,360.8 1185.3,361.1 1185.9,361.4 1186.4,361.8 1187.0,362.2 1187.6,362.8 1188.2,363.1 1188.8,362.6 1189.4,361.7 1190.0,360.8 1190.6,360.8 1191.1,361.0 1191.7,361.7 1192.3,361.5 1192.9,361.0 1193.5,360.2 1194.1,360.1 1194.7,359.8 1195.3,360.0 1195.9,360.0 1196.4,360.8 1197.0,361.0 1197.6,361.1 1198.2,363.0 1198.8,360.9 1199.4,361.2 1200.0,362.0 1200.6,362.3 1201.1,362.0 1201.7,362.4 1202.3,362.4 1202.9,362.8 1203.5,362.8 1204.1,361.8 1204.7,360.5 1205.3,360.3 1205.9,360.7 1206.4,361.5 1207.0,362.5 1207.6,362.4 1208.2,361.7 1208.8,361.0 1209.4,360.7 1210.0,360.2 1210.6,359.9 1211.1,359.2 1211.7,357.7 1212.3,355.3 1212.9,352.7 1213.6,350.2 1214.1,352.2 1214.7,354.7 1215.3,356.7 1215.9,358.3 1216.4,359.5 1217.0,361.0 1217.6,362.8 1218.2,363.8 1218.8,363.2 1219.4,362.6 1220.0,362.0 1220.6,361.6 1221.1,361.0 1221.7,360.7 1222.3,360.4 1222.9,359.7 1223.5,359.6 1224.1,359.7 1224.7,360.0 1225.3,360.7 1225.9,361.8 1226.4,361.5 1227.0,361.4 1227.6,361.3 1228.2,359.4 1228.8,360.8 1229.4,361.5 1230.0,361.4 1230.6,357.9 1231.1,360.6 1231.7,359.8 1232.3,359.9 1232.9,361.0 1233.5,361.4 1234.1,361.0 1234.7,359.4 1235.3,360.9 1235.9,359.2 1236.4,359.3 1237.0,359.2 1237.6,359.1 1238.2,358.9 1238.8,359.2 1239.4,360.5 1240.0,361.6 1240.6,362.3 1241.1,362.2 1241.7,360.1 1242.3,356.0 1242.9,351.1 1243.5,347.1 1243.9,345.9 1244.7,348.6 1245.3,351.6 1245.9,354.4 1246.4,356.9 1247.0,358.6 1247.6,359.8 1248.2,359.7 1248.8,359.2 1249.4,359.4 1250.0,360.6 1250.6,361.5 1251.1,362.0 1251.7,361.0 1252.3,360.4 1252.9,360.6 1253.5,361.0 1254.1,361.3 1254.7,361.2 1255.3,360.6 1255.9,358.9 1256.4,358.3 1257.0,358.0 1257.6,358.0 1258.2,358.2 1258.8,357.5 1259.4,357.2 1260.0,357.5 1260.6,358.7 1261.1,359.4 1261.7,359.8 1262.3,359.0 1262.9,358.6 1263.5,358.5 1264.1,358.5 1264.7,358.7 1265.3,359.2 1265.9,359.0 1266.4,358.7 1267.0,356.1 1267.6,355.6 1268.2,351.5 1268.8,345.6 1269.4,335.0 1270.0,320.6 1270.6,304.5 1271.1,294.1 1271.4,293.1 1271.7,293.4 1272.3,302.8 1272.9,314.6 1273.5,320.9 1274.1,318.2 1274.7,308.6 1275.3,298.8 1275.7,296.0 1276.4,305.9 1277.0,320.3 1277.6,335.0 1278.2,346.2 1278.8,353.0 1279.4,357.0 1280.0,358.9 1280.6,359.4 1281.1,359.0 1281.7,358.7 1282.3,357.8 1282.9,357.7 1283.5,357.7 1284.1,357.8 1284.7,358.5 1285.3,359.7 1285.8,359.9 1286.4,360.2 1287.0,360.2 1287.6,360.0 1288.2,360.6 1288.8,361.8 1289.4,362.1 1290.0,361.8 1290.6,360.0 1291.1,357.7 1291.7,354.6 1292.3,350.9 1292.9,347.0 1293.6,344.9 1294.1,346.6 1294.7,352.0 1295.3,356.9 1295.8,359.8 1296.4,360.8 1297.0,360.9 1297.6,360.4 1298.2,360.5 1298.8,360.6 1299.4,360.1 1300.0,360.2 1300.6,361.2 1301.1,361.3 1301.7,361.5 1302.3,362.2 1302.9,361.9 1303.5,361.2 1304.1,360.6 1304.7,360.5 1305.3,360.2 1305.8,361.3 1306.4,362.5 1307.0,362.7 1307.6,362.0 1308.2,361.0 1308.8,360.1 1309.4,359.2 1310.0,359.0 1310.6,359.8 1311.1,360.9 1311.7,361.3 1312.3,361.6 1312.9,361.4 1313.5,361.2 1314.1,360.8 1314.7,360.6 1315.3,360.7 1315.8,361.1 1316.4,361.1 1317.0,361.0 1317.6,359.6 1318.2,358.2 1318.8,358.3 1319.4,359.1 1320.0,359.7 1320.6,360.0 1321.1,359.7 1321.7,359.1 1322.3,359.2 1322.9,359.3 1323.5,359.5 1324.1,360.1 1324.7,360.5 1325.3,360.6 1325.8,360.7 1326.4,360.0 1327.0,359.3 1327.6,359.0 1328.2,359.0 1328.8,358.9 1329.4,359.2 1330.0,359.3 1330.6,359.0 1331.1,358.3 1331.7,357.3 1332.3,357.2 1332.9,356.9 1333.5,357.4 1334.1,358.0 1334.7,358.5 1335.3,358.3 1335.7,357.6 1336.4,358.3 1337.0,358.3 1337.6,358.1 1338.2,358.7 1338.8,359.0 1339.4,359.8 1340.0,360.6 1340.6,362.2 1341.1,360.8 1341.7,361.1 1342.3,360.4 1342.9,359.8 1343.5,359.1 1344.1,358.6 1344.7,358.6 1345.3,359.5 1345.8,359.9 1346.4,359.8 1347.0,359.9 1347.6,360.4 1348.2,361.1 1348.8,361.0 1349.4,360.8 1350.0,360.2 1350.6,360.2 1351.1,361.1 1351.7,362.0 1352.3,361.8 1352.9,361.0 1353.5,360.6 1354.1,360.3 1354.7,360.8 1355.3,361.4 1355.8,361.2 1356.4,360.5 1357.0,360.7 1357.6,361.1 1358.2,361.2 1358.8,361.0 1359.4,360.2 1360.0,359.7 1360.6,360.1 1361.1,361.5 1361.7,362.2 1362.3,362.2 1362.9,361.3 1363.5,359.5 1364.1,356.2 1364.7,351.7 1365.3,347.7 1365.8,339.6 1366.3,338.4 1367.0,342.2 1367.6,348.3 1368.2,354.0 1368.8,357.6 1369.4,359.8 1370.0,361.2 1370.5,362.1 1371.1,361.8 1371.7,361.3 1372.3,360.8 1372.9,360.7 1373.5,361.1 1374.1,360.8 1374.7,360.6 1375.3,360.5 1375.8,361.1 1376.4,361.5 1377.0,362.4 1377.6,362.1 1378.2,361.4 1378.8,360.9 1379.4,361.1 1380.0,361.5 1380.5,362.2 1381.1,362.5 1381.7,362.3 1382.3,361.6 1382.9,360.3 1383.5,359.2 1384.1,358.1 1384.7,357.9 1385.3,358.3 1385.8,359.0 1386.4,359.3 1387.0,360.3 1387.6,360.9 1388.2,362.0 1388.8,362.4 1389.4,362.2 1390.0,362.2 1390.5,361.8 1391.1,360.8 1391.7,360.8 1392.3,361.0 1392.9,361.4 1393.5,362.3 1394.1,363.0 1394.7,362.6 1395.3,362.3 1395.8,361.4 1396.4,360.8 1397.0,360.6 1397.6,360.8 1398.2,361.2 1398.8,362.6 1399.4,362.8 1400.0,363.1 1400.5,363.2 1401.1,363.1 1401.7,362.3 1402.3,362.7 1402.9,362.5 1403.5,362.2 1404.1,361.8 1404.7,361.6 1405.3,361.3 1405.8,361.3 1406.4,361.8 1407.0,361.4 1407.6,360.3 1408.2,358.2 1408.8,356.4 1409.4,354.9 1410.0,353.7 1410.5,354.1 1411.1,354.4 1411.7,355.3 1412.3,357.2 1412.9,359.5 1413.5,360.8 1414.1,361.1 1414.7,360.7 1415.3,360.3 1415.8,360.4 1416.4,361.2 1417.0,361.6 1417.6,361.5 1418.2,360.7 1418.8,359.8 1419.4,358.7 1420.0,358.5 1420.5,359.1 1421.1,359.4 1421.7,359.4 1422.3,359.2 1422.9,359.2 1423.5,359.1 1424.2,358.1 1424.7,358.6 1425.3,359.0 1425.8,359.3 1426.4,359.9 1427.0,360.8 1427.6,361.0 1428.2,361.3 1428.8,361.2 1429.4,360.9 1430.0,359.9 1430.5,358.8 1431.1,358.2 1431.7,358.1 1432.3,358.3 1432.9,359.8 1433.5,361.1 1434.1,361.7 1434.7,361.0 1435.3,359.7 1435.8,358.0 1436.4,357.1 1437.0,357.5 1437.6,358.3 1438.2,359.2 1438.8,361.1 1439.4,362.5 1440.0,362.8 1440.5,362.7 1441.1,361.8 1441.7,360.4 1442.3,360.0 1442.9,360.1 1443.5,360.2 1444.1,360.1 1444.7,359.5 1445.3,358.4 1445.8,357.5 1446.4,357.3 1447.0,356.8 1447.6,355.8 1448.2,353.7 1448.5,351.5 1448.8,351.2 1449.4,348.5 1450.0,345.2 1450.5,344.5 1451.1,346.4 1451.7,350.2 1452.3,354.2 1452.9,357.3 1453.5,359.3 1454.1,361.0 1454.7,361.3 1455.3,360.9 1455.8,360.5 1456.4,360.5 1457.0,361.5 1457.6,362.6 1458.2,361.6 1458.8,362.4 1459.4,361.8 1460.0,361.1 1460.5,360.7 1461.1,360.7 1461.7,360.9 1462.3,361.0 1462.9,361.3 1463.5,360.5 1464.1,360.1 1464.7,359.9 1465.3,359.9 1465.8,359.6 1466.4,359.3 1467.0,359.3 1467.6,360.2 1468.2,360.8 1468.8,361.3 1469.4,361.2 1470.0,359.9 1470.5,357.7 1471.3,357.0 1471.7,355.7 1472.3,356.7 1472.9,358.4 1473.5,360.2 1474.1,361.1 1474.7,362.3 1475.2,362.7 1475.8,362.6 1476.4,362.1 1477.0,361.1 1477.6,361.0 1478.2,360.9 1478.8,361.0 1479.4,361.1 1480.0,361.8 1480.5,362.0 1481.1,363.0 1481.7,363.3 1482.3,362.8 1482.9,361.9 1483.5,360.9 1484.1,360.5 1484.7,360.6 1485.2,360.9 1485.8,361.2 1486.4,361.9 1487.0,362.1 1487.6,362.9 1488.2,363.3 1488.8,362.6 1489.4,362.0 1490.0,361.4 1490.5,360.9 1491.1,360.5 1491.7,360.8 1492.3,360.6 1492.9,360.6 1493.5,360.7 1494.1,360.5 1494.7,359.3 1495.4,357.0 1495.8,357.9 1496.4,358.2 1497.0,359.2 1497.6,360.5 1498.2,361.5 1498.8,362.0 1499.4,362.9 1500.0,362.9 1500.5,362.8 1501.1,362.1 1501.7,361.7 1502.3,361.3 1502.9,361.1 1503.5,360.0 1504.1,359.8 1504.7,359.9 1505.2,360.5 1505.8,361.1 1506.4,361.5 1507.0,361.1 1507.6,361.1 1508.2,361.7 1508.8,362.2 1509.4,362.1 1510.0,361.9 1510.5,361.5 1511.1,361.2 1511.7,360.6 1512.3,360.3 1512.9,360.2 1513.5,360.4 1514.1,360.6 1514.7,361.3 1515.2,361.5 1515.8,362.1 1516.4,362.6 1517.0,362.5 1517.6,362.0 1518.2,360.9 1518.8,359.5 1519.4,359.2 1520.0,359.4 1520.5,360.4 1521.1,361.5 1521.7,362.0 1522.3,362.0 1522.9,362.1 1523.5,362.4 1524.1,362.3 1524.7,362.2 1525.2,361.8 1525.8,361.7 1526.4,361.9 1527.0,362.5 1527.6,362.0 1528.2,360.3 1528.8,357.4 1529.4,352.9 1530.0,348.3 1530.7,343.8 1531.1,346.0 1531.7,348.0 1532.3,350.0 1532.9,350.9 1533.5,351.1 1533.8,351.5 1534.1,353.0 1534.7,354.6 1535.2,356.0 1535.8,357.5 1536.4,358.9 1537.0,360.1 1537.6,360.7 1538.2,360.7 1538.8,360.7 1539.4,360.2 1540.0,360.0 1540.5,360.2 1541.1,361.0 1541.7,361.5 1542.3,362.5 1542.9,361.9 1543.5,361.2 1544.1,360.8 1544.7,360.6 1545.2,359.8 1545.8,359.6 1546.4,359.2 1547.0,359.7 1547.6,360.6 1548.2,361.6 1548.8,362.1 1549.4,361.7 1550.0,361.1 1550.5,358.7 1551.1,360.3 1551.7,360.4 1552.3,361.3 1552.9,361.7 1553.5,362.5 1554.1,362.7 1554.7,362.9 1555.2,362.2 1555.8,361.7 1556.4,361.8 1557.0,362.2 1557.6,362.0 1558.2,361.5 1558.8,361.0 1559.4,360.3 1560.0,360.7 1560.5,361.3 1561.1,361.5 1561.7,361.4 1562.3,361.1 1562.9,360.4 1563.5,359.8 1564.1,360.2 1564.7,361.2 1565.2,362.0 1565.8,362.2 1566.4,361.3 1567.0,359.9 1567.6,359.0 1568.2,358.8 1568.8,358.2 1569.4,357.4 1569.9,355.8 1570.5,354.1 1571.1,355.9 1571.7,357.2 1572.3,358.1 1572.9,358.5 1573.5,358.6 1574.1,358.3 1574.7,359.1 1575.2,359.4 1575.8,359.7 1576.4,360.2 1577.0,360.7 1577.6,361.1 1578.2,361.0 1578.8,360.3 1579.4,359.7 1579.9,359.8 1580.5,360.4 1581.1,361.5 1581.7,362.4 1582.3,363.0 1582.9,362.6 1583.5,362.5 1584.1,362.2 1584.7,362.7 1585.2,363.1 1585.8,363.4 1586.4,362.8 1587.0,362.1 1587.6,360.7 1588.2,360.1 1588.8,359.7 1589.4,360.2 1589.9,360.5 1590.5,361.1 1591.1,361.6 1591.7,361.7 1592.3,361.9 1592.9,361.8 1593.5,361.4 1594.1,360.9 1594.7,361.3 1595.2,361.2 1595.8,361.0 1596.4,361.1 1597.0,361.1 1597.6,361.4 1598.2,362.1 1598.8,362.6 1599.4,362.1 1599.9,361.8 1600.5,360.7 1601.1,359.9 1601.7,359.4 1602.3,359.4 1602.9,359.8 1603.5,360.0 1604.1,358.7 1604.7,355.7 1605.2,352.0 1605.8,348.5 1606.4,346.6 1607.0,345.3 1607.6,344.6 1607.9,344.5 1608.2,345.1 1608.8,348.4 1609.4,352.1 1609.9,354.9 1610.5,357.3 1611.1,359.3 1611.7,360.9 1612.3,361.6 1612.9,361.9 1613.5,361.4 1614.1,361.2 1614.7,361.1 1615.2,360.9 1615.8,360.4 1616.4,359.7 1617.0,359.2 1617.6,359.3 1618.2,359.6 1618.8,360.9 1619.4,361.6 1619.9,361.8 1620.5,361.7 1621.1,361.8 1621.7,362.1 1622.3,363.0 1622.9,363.1 1623.5,362.3 1624.1,361.2 1624.7,359.8 1625.2,358.5 1625.8,357.0 1626.6,354.8 1627.0,357.1 1627.6,359.2 1628.2,361.0 1628.8,361.5 1629.4,360.5 1629.9,359.7 1630.5,359.7 1631.1,359.5 1631.7,359.6 1632.3,359.8 1632.9,360.4 1633.5,361.1 1634.1,362.2 1634.7,362.1 1635.2,361.6 1635.8,361.6 1636.4,362.2 1637.0,362.3 1637.6,361.9 1638.2,360.9 1638.8,359.6 1639.4,359.4 1639.9,360.7 1640.5,362.0 1641.1,363.2 1641.7,361.8 1642.3,362.3 1642.9,361.7 1643.5,361.8 1644.1,361.8 1644.7,361.4 1645.2,360.4 1645.8,359.5 1646.4,359.1 1647.0,359.5 1647.6,360.1 1648.2,360.5 1648.8,363.6 1649.4,361.1 1649.9,361.4 1650.5,361.5 1651.1,361.3 1651.7,361.4 1652.3,361.4 1652.9,361.2 1653.5,360.8 1654.1,360.5 1654.7,360.5 1655.2,361.4 1655.8,362.1 1656.4,362.8 1657.0,362.6 1657.6,362.2 1658.2,361.5 1658.8,361.4 1659.4,361.4 1659.9,361.9 1660.5,362.0 1661.1,361.4 1661.7,360.7 1662.3,360.2 1662.9,360.3 1663.5,360.5 1664.1,360.9 1664.6,360.8"/>
<polyline fill="none" stroke="#000000" stroke-width="3.5" stroke-linejoin="round" stroke-linecap="round" points="929.4,243.4 930.0,244.9 930.6,244.7 931.2,244.2 931.8,242.3 932.3,240.9 932.9,239.9 933.5,240.7 934.1,240.8 934.7,242.9 935.3,244.5 935.9,246.2 936.5,243.6 937.0,240.9 937.5,237.5 938.2,240.4 938.8,241.8 939.4,241.9 940.0,238.8 940.6,235.3 941.2,228.8 941.8,228.1 942.3,231.8 942.9,237.6 943.5,240.9 944.1,240.4 944.7,240.6 945.3,239.1 945.9,239.6 946.5,239.3 947.0,239.0 947.6,241.6 948.2,241.4 948.8,242.9 949.4,244.3 950.0,244.8 950.6,242.9 951.2,241.3 951.8,240.2 952.3,240.0 952.9,239.5 953.5,240.9 954.1,240.5 954.7,239.2 955.3,238.5 955.9,239.0 956.5,241.2 957.0,242.5 957.6,242.3 958.2,242.8 958.8,241.5 959.4,239.8 960.0,241.0 960.6,240.8 961.2,240.7 961.8,242.1 962.3,242.4 962.9,242.8 963.5,243.3 964.1,244.6 964.7,245.2 965.3,246.0 965.9,245.9 966.5,245.2 967.0,244.2 967.6,243.8 968.2,243.6 968.8,243.1 969.4,243.8 970.0,244.6 970.6,244.1 971.2,245.1 971.8,245.3 972.3,245.5 972.9,244.9 973.5,244.3 974.1,241.4 974.7,237.9 975.3,232.9 975.9,226.6 976.5,221.7 977.0,221.6 977.6,225.8 978.2,232.5 978.8,237.8 979.4,240.8 980.0,241.3 980.6,241.5 981.2,240.8 981.7,240.5 982.3,240.7 982.9,243.7 983.5,242.5 984.1,243.3 984.7,244.0 985.3,244.5 985.9,244.8 986.5,244.6 987.0,244.3 987.6,243.9 988.2,243.9 988.8,244.4 989.4,245.1 990.0,245.7 990.6,245.6 991.2,245.3 991.7,244.6 992.3,244.7 992.9,244.8 993.5,246.0 994.1,245.9 994.7,246.4 995.3,246.1 995.9,246.4 996.5,246.7 997.0,246.5 997.6,246.6 998.2,245.9 998.8,245.8 999.4,246.0 1000.0,246.5 1000.6,247.3 1001.2,248.7 1001.7,248.9 1002.3,249.1 1002.9,248.7 1003.5,248.1 1004.1,247.2 1004.7,245.8 1005.3,242.8 1005.9,237.7 1006.5,231.6 1007.0,227.3 1007.3,225.0 1007.6,225.7 1008.2,228.6 1008.8,233.4 1009.4,238.3 1010.0,241.8 1010.6,244.2 1011.2,246.0 1011.7,246.4 1012.3,246.2 1012.9,246.2 1013.5,245.2 1014.1,244.5 1014.7,244.2 1015.3,244.4 1015.9,245.0 1016.5,245.3 1017.0,245.4 1017.6,244.7 1018.2,243.3 1018.8,240.5 1019.4,234.4 1020.0,222.9 1020.6,206.6 1021.2,191.8 1021.6,187.7 1022.3,197.9 1022.9,214.9 1023.5,229.8 1024.1,240.0 1024.7,245.1 1025.3,246.0 1025.9,245.4 1026.5,245.5 1027.0,245.8 1027.6,246.7 1028.2,247.4 1028.8,247.5 1029.4,247.5 1030.0,249.9 1030.6,248.8 1031.2,249.3 1031.7,249.0 1032.3,248.2 1032.9,247.3 1033.5,245.8 1034.1,242.6 1034.7,236.9 1035.3,227.1 1035.9,213.0 1036.5,202.9 1036.7,202.2 1037.0,203.6 1037.6,213.8 1038.2,227.1 1038.8,236.0 1039.4,241.4 1040.0,243.9 1040.6,245.0 1041.2,245.1 1041.7,245.2 1042.3,245.4 1042.9,246.4 1043.5,247.4 1044.1,248.1 1044.7,247.6 1045.3,246.9 1045.9,246.9 1046.5,246.7 1047.0,248.7 1047.6,246.3 1048.2,245.3 1048.8,244.8 1049.4,244.9 1050.0,244.1 1050.6,244.5 1051.2,244.8 1051.7,245.1 1052.3,246.4 1052.9,246.7 1053.5,247.0 1054.1,247.0 1054.7,247.2 1055.3,249.9 1055.9,246.9 1056.5,247.0 1057.0,248.1 1057.6,248.8 1058.2,247.1 1058.8,247.5 1059.4,245.7 1060.0,244.4 1060.6,243.9 1061.2,243.4 1061.7,241.5 1062.3,235.6 1062.9,222.6 1063.5,203.2 1064.1,183.8 1064.7,176.0 1065.3,185.0 1065.9,205.6 1066.5,224.7 1067.0,236.9 1067.6,242.5 1068.2,245.1 1068.8,245.9 1069.4,247.5 1070.0,248.8 1070.6,249.9 1071.2,249.9 1071.7,250.2 1072.3,250.1 1072.9,250.1 1073.5,250.0 1074.1,250.1 1074.7,250.3 1075.3,251.4 1075.9,252.0 1076.4,252.3 1077.0,251.7 1077.6,251.2 1078.2,250.5 1078.8,251.1 1079.4,251.4 1080.0,251.7 1080.6,251.4 1081.2,251.2 1081.7,250.5 1082.3,250.2 1082.9,249.8 1083.5,250.3 1084.1,250.9 1084.7,251.9 1085.3,251.7 1085.9,250.9 1086.4,249.3 1087.0,249.0 1087.6,249.3 1088.2,249.8 1088.8,251.5 1089.4,250.8 1090.0,250.8 1090.6,251.0 1091.2,250.7 1091.7,250.3 1092.3,249.9 1092.9,250.8 1093.5,250.8 1094.1,251.1 1094.7,250.9 1095.3,250.3 1095.9,249.6 1096.4,249.2 1097.0,248.5 1097.6,248.3 1098.2,249.0 1098.8,250.4 1099.4,251.8 1100.0,252.8 1100.6,252.3 1101.2,251.1 1101.7,249.3 1102.3,246.9 1102.9,244.7 1103.5,239.9 1104.1,230.6 1104.7,216.6 1105.3,203.0 1105.9,197.0 1106.4,204.0 1107.0,218.7 1107.6,232.2 1108.2,240.6 1108.8,244.6 1109.4,246.5 1110.0,246.6 1110.6,247.2 1111.2,247.1 1111.7,244.2 1112.3,246.9 1112.9,246.9 1113.5,246.3 1114.1,246.9 1114.7,246.8 1115.3,247.2 1115.9,248.1 1116.4,248.5 1117.0,248.7 1117.6,249.3 1118.2,249.1 1118.8,248.8 1119.4,248.7 1120.0,248.5 1120.6,247.4 1121.2,244.4 1121.7,238.9 1122.3,230.5 1122.9,221.6 1123.5,217.3 1124.1,221.1 1124.7,229.5 1125.3,238.6 1125.9,245.4 1126.4,248.8 1127.0,250.0 1127.6,250.7 1128.2,251.2 1128.8,251.7 1129.4,253.0 1130.0,253.6 1130.6,253.7 1131.2,253.6 1131.7,253.9 1132.3,254.2 1132.9,254.3 1133.5,254.2 1134.1,253.5 1134.7,252.9 1135.3,253.1 1135.9,253.6 1136.4,253.4 1137.0,252.8 1137.6,252.1 1138.2,251.9 1138.8,252.2 1139.4,252.9 1140.0,253.2 1140.6,252.8 1141.2,252.4 1141.7,251.7 1142.3,252.1 1142.9,252.9 1143.5,253.6 1144.1,254.1 1144.7,253.1 1145.3,251.7 1145.9,251.4 1146.4,251.4 1147.0,251.7 1147.6,252.1 1148.2,251.8 1148.8,252.1 1149.4,252.0 1150.0,251.4 1150.6,251.3 1151.2,251.1 1151.7,251.3 1152.3,252.4 1152.9,253.0 1153.5,252.7 1154.1,252.5 1154.7,251.9 1155.3,250.8 1155.9,249.5 1156.4,249.6 1157.0,250.1 1157.6,252.1 1158.2,253.1 1158.8,253.5 1159.4,252.7 1160.0,252.4 1160.6,252.3 1161.2,253.0 1161.7,252.9 1162.3,251.8 1162.9,250.7 1163.5,250.6 1164.1,251.5 1164.7,253.3 1165.3,254.3 1165.9,254.1 1166.4,252.7 1167.0,252.1 1167.6,251.8 1168.2,252.4 1168.8,253.3 1169.4,253.6 1170.0,253.7 1170.6,252.8 1171.2,252.0 1171.7,250.5 1172.3,248.7 1172.9,245.3 1173.5,242.4 1174.2,239.5 1174.7,241.2 1175.3,243.8 1175.9,246.9 1176.4,248.7 1177.0,250.1 1177.6,250.9 1178.2,251.8 1178.8,249.5 1179.4,252.6 1180.0,253.4 1180.6,253.3 1181.1,253.5 1181.7,254.3 1182.3,254.3 1182.9,254.2 1183.5,253.8 1184.1,252.8 1184.7,251.9 1185.3,249.7 1185.9,252.0 1186.4,251.9 1187.0,251.2 1187.6,250.8 1188.2,250.5 1188.8,250.7 1189.4,250.5 1190.0,250.5 1190.6,250.8 1191.1,250.4 1191.7,250.2 1192.3,250.0 1192.9,249.5 1193.5,249.0 1194.1,249.0 1194.7,248.5 1195.3,248.9 1195.9,249.1 1196.4,249.9 1197.0,250.0 1197.6,250.4 1198.2,250.7 1198.8,250.6 1199.4,250.1 1200.0,250.2 1200.6,249.7 1201.1,248.1 1201.7,249.7 1202.3,249.7 1202.9,249.6 1203.5,249.9 1204.1,250.1 1204.7,250.7 1205.3,251.1 1205.9,252.0 1206.4,252.6 1207.0,252.9 1207.6,252.4 1208.2,252.3 1208.8,251.4 1209.4,249.4 1210.0,245.8 1210.6,241.4 1211.1,238.3 1211.4,239.5 1211.7,240.5 1212.3,243.7 1212.9,247.2 1213.5,249.1 1214.1,250.3 1214.7,250.9 1215.3,251.2 1215.9,251.3 1216.4,251.3 1217.0,250.6 1217.6,250.4 1218.2,250.4 1218.8,250.7 1219.4,251.3 1220.0,251.1 1220.6,249.6 1221.1,248.0 1221.7,248.1 1222.3,247.4 1222.9,249.4 1223.5,251.6 1224.1,253.2 1224.7,254.1 1225.3,254.2 1225.9,254.1 1226.4,253.8 1227.0,253.5 1227.6,252.9 1228.2,252.7 1228.8,252.2 1229.4,252.4 1230.0,253.3 1230.6,254.9 1231.1,256.0 1231.7,256.3 1232.3,255.8 1232.9,254.7 1233.5,253.6 1234.1,252.9 1234.7,252.5 1235.3,251.9 1235.9,252.2 1236.4,252.5 1237.0,252.4 1237.6,252.4 1238.2,251.9 1238.8,250.3 1239.4,247.9 1240.0,244.1 1240.6,238.2 1241.1,233.9 1241.7,231.5 1242.3,234.1 1242.9,239.5 1243.5,244.5 1244.1,248.0 1244.7,249.4 1245.3,250.0 1245.9,250.0 1246.4,248.1 1247.0,250.9 1247.6,251.4 1248.2,251.1 1248.8,251.3 1249.4,251.6 1250.0,252.3 1250.6,251.9 1251.1,252.1 1251.7,251.9 1252.3,251.5 1252.9,254.2 1253.5,251.5 1254.1,247.9 1254.7,251.2 1255.3,251.6 1255.9,251.0 1256.4,250.2 1257.0,250.5 1257.6,251.0 1258.2,252.2 1258.8,252.6 1259.4,251.7 1260.0,250.7 1260.6,250.5 1261.1,250.7 1261.7,250.7 1262.3,250.3 1262.9,249.4 1263.5,248.8 1264.1,247.3 1264.7,244.2 1265.3,236.5 1265.9,223.1 1266.4,202.5 1267.0,179.7 1267.6,161.9 1268.1,157.0 1268.8,168.2 1269.4,187.0 1270.0,203.9 1270.6,214.4 1271.1,214.3 1271.7,204.5 1272.3,188.3 1272.9,174.4 1273.3,168.1 1274.1,180.0 1274.7,197.0 1275.3,215.0 1275.8,229.3 1276.4,239.3 1277.0,244.5 1277.6,247.2 1278.2,248.1 1278.8,249.4 1279.4,250.1 1280.0,251.8 1280.6,253.0 1281.1,253.2 1281.7,252.7 1282.3,252.4 1282.9,251.0 1283.5,250.6 1284.1,250.7 1284.7,250.5 1285.3,250.3 1285.8,250.4 1286.4,249.8 1287.0,248.7 1287.6,246.1 1288.2,241.7 1288.8,235.6 1289.4,229.9 1289.7,231.5 1290.0,230.9 1290.6,235.5 1291.1,242.0 1291.7,247.1 1292.3,250.1 1292.9,251.3 1293.5,251.5 1294.1,251.6 1294.7,251.5 1295.3,252.2 1295.8,252.0 1296.4,251.9 1297.0,251.3 1297.6,250.0 1298.2,249.2 1298.8,249.1 1299.4,250.3 1300.0,251.1 1300.6,252.1 1301.1,251.8 1301.7,251.1 1302.3,250.3 1302.9,250.7 1303.5,250.8 1304.1,251.1 1304.7,250.8 1305.3,250.7 1305.8,250.7 1306.4,251.0 1307.0,251.1 1307.6,251.5 1308.2,251.9 1308.8,252.8 1309.4,253.7 1310.0,253.6 1310.6,252.5 1311.1,251.9 1311.7,252.3 1312.3,253.4 1312.9,254.9 1313.5,255.5 1314.1,254.8 1314.7,254.5 1315.3,254.1 1315.8,253.9 1316.4,254.1 1317.0,254.2 1317.6,254.6 1318.2,254.9 1318.8,257.4 1319.4,253.1 1320.0,251.8 1320.6,250.8 1321.1,251.1 1321.7,251.6 1322.3,252.7 1322.9,253.1 1323.5,252.6 1324.1,252.2 1324.7,252.3 1325.3,252.3 1325.8,252.5 1326.4,253.4 1327.0,254.1 1327.6,255.1 1328.2,256.1 1328.8,256.2 1329.4,255.1 1330.0,254.5 1330.6,253.7 1331.1,252.9 1331.7,251.8 1332.3,250.4 1332.9,249.1 1333.5,248.5 1334.1,250.1 1334.7,251.6 1335.3,252.9 1335.8,253.6 1336.4,253.9 1337.0,253.2 1337.6,253.4 1338.2,252.4 1338.8,251.5 1339.4,251.1 1340.0,251.3 1340.6,252.0 1341.1,253.7 1341.7,254.9 1342.3,256.2 1342.9,257.0 1343.5,256.9 1344.1,256.6 1344.7,255.5 1345.3,254.6 1345.8,251.9 1346.4,255.1 1347.0,254.8 1347.6,254.6 1348.2,254.2 1348.8,254.1 1349.4,254.8 1350.0,255.1 1350.6,254.3 1351.1,253.1 1351.7,252.3 1352.3,252.3 1352.9,253.1 1353.5,256.9 1354.1,254.3 1354.7,254.9 1355.3,255.2 1355.8,255.5 1356.4,255.0 1357.0,255.0 1357.6,254.9 1358.2,255.0 1358.8,255.2 1359.4,254.6 1360.0,253.3 1360.6,251.3 1361.1,247.7 1361.7,242.9 1362.3,237.7 1363.1,234.3 1363.5,236.4 1364.1,242.6 1364.7,247.8 1365.3,251.4 1365.8,253.1 1366.4,253.4 1367.0,252.5 1367.6,252.6 1368.2,252.7 1368.8,253.4 1369.4,254.7 1370.0,255.9 1370.5,255.7 1371.1,255.5 1371.7,257.1 1372.3,255.1 1372.9,255.4 1373.5,255.1 1374.1,255.4 1374.7,256.0 1375.3,256.5 1375.8,255.9 1376.4,255.4 1377.0,254.4 1377.6,253.9 1378.2,254.3 1378.8,254.7 1379.4,255.0 1380.0,255.5 1380.5,256.0 1381.1,256.5 1381.7,257.1 1382.3,257.0 1382.9,256.5 1383.5,256.3 1384.1,256.1 1384.7,256.8 1385.3,256.9 1385.8,257.4 1386.4,257.5 1387.0,257.7 1387.6,257.7 1388.2,257.1 1388.8,255.4 1389.4,253.9 1390.0,253.3 1390.5,253.3 1391.1,252.7 1391.7,251.0 1392.5,250.7 1392.9,248.9 1393.5,250.6 1394.1,252.4 1394.7,254.4 1395.3,255.5 1395.8,256.0 1396.4,256.1 1397.0,256.4 1397.6,255.9 1398.2,255.2 1398.8,255.1 1399.4,255.1 1400.0,255.0 1400.5,255.3 1401.1,255.2 1401.7,254.6 1402.3,253.9 1402.9,253.6 1403.5,252.4 1404.1,251.5 1404.7,250.0 1405.3,248.7 1405.8,247.5 1406.4,246.3 1407.2,244.2 1407.6,244.0 1408.2,243.9 1408.8,245.8 1409.4,248.8 1410.0,252.4 1410.5,254.5 1411.1,256.1 1411.7,256.4 1412.3,256.2 1412.9,256.2 1413.5,256.7 1414.1,256.8 1414.7,256.8 1415.3,256.7 1415.8,256.5 1416.4,256.8 1417.0,256.5 1417.6,256.4 1418.2,255.8 1418.8,255.5 1419.4,255.7 1420.0,256.3 1420.5,255.7 1421.1,256.1 1421.7,256.6 1422.3,257.8 1422.9,259.6 1423.5,260.4 1424.1,259.3 1424.7,258.1 1425.3,257.2 1425.8,256.6 1426.4,256.9 1427.0,257.1 1427.6,256.8 1428.2,256.5 1428.8,257.0 1429.4,256.9 1430.0,257.2 1430.5,257.4 1431.1,256.6 1431.7,255.5 1432.3,255.0 1432.9,254.7 1433.5,255.0 1434.1,255.8 1434.7,256.2 1435.3,256.5 1435.8,256.5 1436.4,256.1 1437.0,255.6 1437.6,255.1 1438.2,255.5 1438.8,255.2 1439.4,255.2 1440.0,254.5 1440.5,254.0 1441.1,253.8 1441.7,254.5 1442.3,255.4 1442.9,255.8 1443.5,255.6 1444.1,253.9 1444.7,253.8 1445.3,252.2 1445.8,250.1 1446.4,246.0 1447.0,241.3 1447.6,237.4 1447.9,236.5 1448.2,236.9 1448.8,238.6 1449.4,240.0 1450.0,240.3 1450.7,243.5 1451.1,241.9 1451.7,245.4 1452.3,248.9 1452.9,251.3 1453.5,252.3 1454.1,253.4 1454.7,253.7 1455.3,254.5 1455.8,255.6 1456.4,256.9 1457.0,256.9 1457.6,256.8 1458.2,255.8 1458.8,254.3 1459.4,253.0 1460.0,253.5 1460.5,253.6 1461.1,254.1 1461.7,254.9 1462.3,255.4 1462.9,255.4 1463.5,256.1 1464.1,256.3 1464.7,255.5 1465.3,253.8 1465.8,251.4 1466.4,248.5 1467.0,247.1 1467.5,247.4 1468.2,249.9 1468.8,251.7 1469.4,253.2 1470.0,253.9 1470.5,254.0 1471.1,253.7 1471.7,253.6 1472.3,253.5 1472.9,254.3 1473.5,254.8 1474.1,255.6 1474.7,255.1 1475.2,254.7 1475.8,254.7 1476.4,255.6 1477.0,255.5 1477.6,256.1 1478.2,256.2 1478.8,256.2 1479.4,255.4 1480.0,256.5 1480.5,255.6 1481.1,255.0 1481.7,254.2 1482.3,253.9 1482.9,253.4 1483.5,254.2 1484.1,254.1 1484.7,254.4 1485.2,255.0 1485.8,255.5 1486.4,256.0 1487.0,256.5 1487.6,256.0 1488.2,255.2 1488.8,254.7 1489.4,254.4 1490.0,254.7 1490.5,254.9 1491.1,253.2 1491.7,250.3 1492.5,246.8 1492.9,245.8 1493.5,247.4 1494.1,250.5 1494.7,252.6 1495.2,253.9 1495.8,255.4 1496.4,256.0 1497.0,256.9 1497.6,257.7 1498.2,256.9 1498.8,255.4 1499.4,254.4 1500.0,254.0 1500.5,254.2 1501.1,255.1 1501.7,256.5 1502.3,257.5 1502.9,258.1 1503.5,258.0 1504.1,256.8 1504.7,256.4 1505.2,256.7 1505.8,257.5 1506.4,258.0 1507.0,257.3 1507.6,256.2 1508.2,255.1 1508.8,254.6 1509.4,254.5 1510.0,255.0 1510.5,255.4 1511.1,256.8 1511.7,256.5 1512.3,256.5 1512.9,255.4 1513.5,255.1 1514.1,254.9 1514.7,255.2 1515.2,254.7 1515.8,254.5 1516.4,254.1 1517.0,254.8 1517.6,256.0 1518.2,256.8 1518.8,257.6 1519.4,257.7 1520.0,258.2 1520.5,258.5 1521.1,258.3 1521.7,257.3 1522.3,256.1 1522.9,254.9 1523.5,254.6 1524.1,255.0 1524.7,255.5 1525.2,255.6 1525.8,254.5 1526.4,251.4 1527.0,246.5 1527.6,240.7 1528.2,239.8 1528.8,237.6 1529.4,241.5 1530.0,244.4 1530.5,246.1 1531.1,245.7 1531.6,245.5 1532.3,245.3 1532.9,247.7 1533.5,249.6 1534.1,250.7 1534.7,251.7 1535.2,251.8 1535.8,252.7 1536.4,253.9 1537.0,255.2 1537.6,255.5 1538.2,256.4 1538.8,256.8 1539.4,257.7 1540.0,257.9 1540.5,257.4 1541.1,255.8 1541.7,254.5 1542.3,253.9 1542.9,254.1 1543.5,255.6 1544.1,256.7 1544.7,257.3 1545.2,257.2 1545.8,256.4 1546.4,255.6 1547.0,255.8 1547.6,256.4 1548.2,256.4 1548.8,256.4 1549.4,255.6 1550.0,255.6 1550.5,255.1 1551.1,254.9 1551.7,254.2 1552.3,253.0 1552.9,251.4 1553.3,250.7 1554.1,252.2 1554.7,253.9 1555.2,255.8 1555.8,257.2 1556.4,257.1 1557.0,256.1 1557.6,255.1 1558.2,254.3 1558.8,254.3 1559.4,254.7 1560.0,255.9 1560.5,256.6 1561.1,258.5 1561.7,256.9 1562.3,257.0 1562.9,256.6 1563.5,256.4 1564.1,255.4 1564.7,255.2 1565.2,254.7 1565.8,253.1 1566.4,250.7 1567.0,247.9 1567.6,245.1 1568.2,245.3 1568.8,246.2 1569.4,248.1 1569.9,250.3 1570.5,252.7 1571.1,254.3 1571.7,254.6 1572.3,254.9 1572.9,254.3 1573.5,252.7 1574.1,252.0 1574.7,251.3 1575.2,250.7 1575.8,252.1 1576.4,254.6 1577.0,255.7 1577.6,258.9 1578.2,256.8 1578.8,255.8 1579.4,255.7 1579.9,255.4 1580.5,255.3 1581.1,255.1 1581.7,255.3 1582.3,255.3 1582.9,255.7 1583.5,256.3 1584.1,256.6 1584.7,256.7 1585.2,255.7 1585.8,255.4 1586.4,254.7 1587.0,254.9 1587.6,255.2 1588.2,255.7 1588.8,255.9 1589.4,256.2 1589.9,256.1 1590.5,255.8 1591.1,255.6 1591.7,254.6 1592.3,254.3 1592.9,250.8 1593.5,254.4 1594.1,255.2 1594.7,257.2 1595.2,258.0 1595.8,258.7 1596.4,258.1 1597.0,256.8 1597.6,255.1 1598.2,254.1 1598.8,253.7 1599.4,252.6 1599.9,251.3 1600.5,249.6 1601.1,248.0 1601.7,246.0 1602.3,243.8 1602.9,241.2 1603.6,239.8 1604.1,239.7 1604.7,242.4 1605.2,246.2 1605.8,249.3 1606.4,250.9 1607.0,251.4 1607.6,251.7 1608.2,251.8 1608.8,252.3 1609.4,252.8 1609.9,253.4 1610.5,254.3 1611.1,255.6 1611.7,255.9 1612.3,255.8 1612.9,255.6 1613.5,255.6 1614.1,255.5 1614.7,255.3 1615.2,254.9 1615.8,254.6 1616.4,255.2 1617.0,255.5 1617.6,256.4 1618.2,256.4 1618.8,255.9 1619.4,255.1 1619.9,254.7 1620.5,254.7 1621.1,255.1 1621.7,256.9 1622.3,254.5 1622.9,253.4 1623.5,251.4 1624.1,250.1 1624.7,249.0 1625.2,248.2 1625.5,248.5 1625.8,248.5 1626.4,248.9 1627.0,250.6 1627.6,252.4 1628.2,253.8 1628.8,254.0 1629.4,253.6 1629.9,252.3 1630.5,251.5 1631.1,251.4 1631.7,252.7 1632.3,254.1 1632.9,255.2 1633.5,254.8 1634.1,254.4 1634.7,253.6 1635.2,254.1 1635.8,255.5 1636.4,257.0 1637.0,257.4 1637.6,257.6 1638.2,256.3 1638.8,254.7 1639.4,253.9 1639.9,253.4 1640.5,254.0 1641.1,255.1 1641.7,256.2 1642.3,256.5 1642.9,255.7 1643.5,254.9 1644.1,254.5 1644.7,253.9 1645.2,254.5 1645.8,254.8 1646.4,254.6 1647.0,254.7 1647.6,254.6 1648.2,254.6 1648.8,255.3 1649.4,255.9 1649.9,255.9 1650.5,255.3 1651.1,253.2 1651.7,250.9 1652.3,249.3 1652.9,248.5 1653.5,251.0 1654.1,253.7 1654.7,256.0 1655.2,256.6 1655.8,256.7 1656.4,256.8 1657.0,256.5 1657.6,256.2 1658.2,256.6 1658.8,256.5 1659.4,256.8 1659.9,257.3 1660.5,257.7 1661.1,258.4 1661.7,259.4 1662.3,259.1 1662.9,258.2 1663.5,256.5 1664.1,255.2 1664.6,255.1"/>
<text x="368.5" y="316.09999999999997" class="st">*</text>
<text x="458.7" y="303.09999999999997" class="st">*</text>
<text x="734.2" y="312.29999999999995" class="st">*</text>
<text x="458.7" y="377.4" class="st">*</text>
<text x="734.2" y="386.09999999999997" class="st">*</text>
<text x="1211.5" y="244.8" class="st">*</text>
<text x="1291.5" y="234.8" class="st">*</text>
<text x="1568.0" y="249.8" class="st">*</text>
<text x="1211.5" y="354.79999999999995" class="st">*</text>
<text x="1291.5" y="345.29999999999995" class="st">*</text>
<text x="1568.0" y="358.29999999999995" class="st">*</text>
</svg>
</body></html>
